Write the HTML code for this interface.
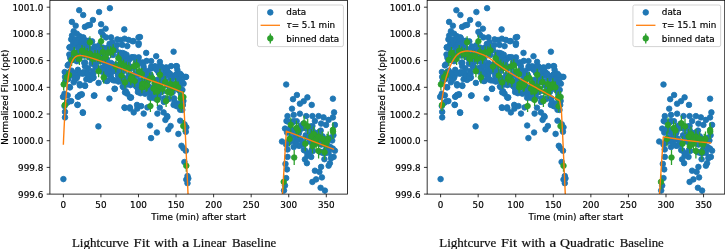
<!DOCTYPE html>
<html><head><meta charset="utf-8"><title>Lightcurve fits</title>
<style>html,body{margin:0;padding:0;background:#fff;overflow:hidden}svg{display:block}text{stroke:#000;stroke-width:.18px}.cap text{stroke:#111;stroke-width:.22px}</style></head>
<body>
<svg width="725" height="249" viewBox="0 0 725 249" font-family="'DejaVu Sans', 'Liberation Sans', sans-serif" font-size="8.8px">
<rect width="725" height="249" fill="#fff"/>
<clipPath id="c0"><rect x="49.9" y="0.3" width="297.6" height="193.79999999999998"/></clipPath>
<g clip-path="url(#c0)">
<g fill="#1f77b4" stroke="#1f77b4" stroke-width="0.86">
<circle cx="110.6" cy="76.0" r="2.78"/>
<circle cx="107.4" cy="80.9" r="2.78"/>
<circle cx="114.6" cy="88.9" r="2.78"/>
<circle cx="122.7" cy="86.5" r="2.78"/>
<circle cx="125.9" cy="91.3" r="2.78"/>
<circle cx="130.7" cy="97.7" r="2.78"/>
<circle cx="121.0" cy="80.9" r="2.78"/>
<circle cx="129.9" cy="79.3" r="2.78"/>
<circle cx="133.1" cy="84.1" r="2.78"/>
<circle cx="137.9" cy="92.1" r="2.78"/>
<circle cx="139.5" cy="87.3" r="2.78"/>
<circle cx="145.1" cy="93.7" r="2.78"/>
<circle cx="147.5" cy="87.3" r="2.78"/>
<circle cx="151.5" cy="92.1" r="2.78"/>
<circle cx="153.2" cy="87.3" r="2.78"/>
<circle cx="156.4" cy="94.5" r="2.78"/>
<circle cx="161.2" cy="92.1" r="2.78"/>
<circle cx="149.9" cy="97.7" r="2.78"/>
<circle cx="158.0" cy="98.5" r="2.78"/>
<circle cx="150.0" cy="125.5" r="2.78"/>
<circle cx="151.1" cy="138.1" r="2.78"/>
<circle cx="180.2" cy="109.8" r="2.78"/>
<circle cx="180.2" cy="120.7" r="2.78"/>
<circle cx="184.5" cy="124.3" r="2.78"/>
<circle cx="186.3" cy="127.3" r="2.78"/>
<circle cx="178.4" cy="133.9" r="2.78"/>
<circle cx="170.6" cy="126.0" r="2.78"/>
<circle cx="79.7" cy="36.2" r="2.78"/>
<circle cx="83.4" cy="38.0" r="2.78"/>
<circle cx="87.2" cy="42.0" r="2.78"/>
<circle cx="77.7" cy="43.7" r="2.78"/>
<circle cx="82.2" cy="45.0" r="2.78"/>
<circle cx="73.4" cy="46.2" r="2.78"/>
<circle cx="69.7" cy="47.4" r="2.78"/>
<circle cx="120.8" cy="40.0" r="2.78"/>
<circle cx="124.6" cy="38.7" r="2.78"/>
<circle cx="109.6" cy="43.7" r="2.78"/>
<circle cx="117.1" cy="45.0" r="2.78"/>
<circle cx="72.0" cy="35.5" r="2.78"/>
<circle cx="85.0" cy="40.5" r="2.78"/>
<circle cx="67.7" cy="65.4" r="2.78"/>
<circle cx="64.7" cy="72.0" r="2.78"/>
<circle cx="65.3" cy="81.1" r="2.78"/>
<circle cx="69.5" cy="87.1" r="2.78"/>
<circle cx="73.7" cy="82.3" r="2.78"/>
<circle cx="76.7" cy="78.1" r="2.78"/>
<circle cx="79.7" cy="84.1" r="2.78"/>
<circle cx="85.1" cy="85.9" r="2.78"/>
<circle cx="83.9" cy="72.0" r="2.78"/>
<circle cx="88.1" cy="68.4" r="2.78"/>
<circle cx="90.6" cy="75.7" r="2.78"/>
<circle cx="93.0" cy="78.1" r="2.78"/>
<circle cx="86.3" cy="79.3" r="2.78"/>
<circle cx="64.0" cy="96.0" r="2.78"/>
<circle cx="67.7" cy="95.4" r="2.78"/>
<circle cx="69.2" cy="101.4" r="2.78"/>
<circle cx="77.7" cy="104.8" r="2.78"/>
<circle cx="78.3" cy="96.6" r="2.78"/>
<circle cx="81.6" cy="94.8" r="2.78"/>
<circle cx="93.9" cy="95.8" r="2.78"/>
<circle cx="82.8" cy="112.3" r="2.78"/>
<circle cx="79.2" cy="10.2" r="2.78"/>
<circle cx="83.2" cy="15.0" r="2.78"/>
<circle cx="99.1" cy="12.0" r="2.78"/>
<circle cx="109.9" cy="8.2" r="2.78"/>
<circle cx="92.9" cy="20.0" r="2.78"/>
<circle cx="71.9" cy="21.9" r="2.78"/>
<circle cx="75.7" cy="25.7" r="2.78"/>
<circle cx="84.9" cy="26.9" r="2.78"/>
<circle cx="87.9" cy="25.4" r="2.78"/>
<circle cx="89.9" cy="24.9" r="2.78"/>
<circle cx="101.1" cy="24.2" r="2.78"/>
<circle cx="105.6" cy="28.7" r="2.78"/>
<circle cx="101.1" cy="31.9" r="2.78"/>
<circle cx="124.3" cy="29.4" r="2.78"/>
<circle cx="73.7" cy="31.2" r="2.78"/>
<circle cx="76.9" cy="33.7" r="2.78"/>
<circle cx="79.9" cy="36.9" r="2.78"/>
<circle cx="83.2" cy="37.4" r="2.78"/>
<circle cx="71.2" cy="39.4" r="2.78"/>
<circle cx="75.4" cy="39.9" r="2.78"/>
<circle cx="69.5" cy="47.4" r="2.78"/>
<circle cx="102.9" cy="34.9" r="2.78"/>
<circle cx="106.1" cy="37.4" r="2.78"/>
<circle cx="111.1" cy="37.4" r="2.78"/>
<circle cx="117.3" cy="39.4" r="2.78"/>
<circle cx="128.6" cy="39.9" r="2.78"/>
<circle cx="133.5" cy="41.1" r="2.78"/>
<circle cx="138.5" cy="37.4" r="2.78"/>
<circle cx="138.5" cy="44.9" r="2.78"/>
<circle cx="112.3" cy="42.4" r="2.78"/>
<circle cx="122.3" cy="44.9" r="2.78"/>
<circle cx="127.3" cy="46.1" r="2.78"/>
<circle cx="140.0" cy="37.0" r="2.78"/>
<circle cx="132.5" cy="41.2" r="2.78"/>
<circle cx="138.7" cy="43.2" r="2.78"/>
<circle cx="146.2" cy="52.9" r="2.78"/>
<circle cx="173.6" cy="51.7" r="2.78"/>
<circle cx="156.2" cy="56.2" r="2.78"/>
<circle cx="132.5" cy="57.4" r="2.78"/>
<circle cx="138.7" cy="57.4" r="2.78"/>
<circle cx="151.2" cy="61.1" r="2.78"/>
<circle cx="159.9" cy="61.9" r="2.78"/>
<circle cx="142.5" cy="62.4" r="2.78"/>
<circle cx="143.7" cy="67.4" r="2.78"/>
<circle cx="151.2" cy="68.6" r="2.78"/>
<circle cx="159.9" cy="66.1" r="2.78"/>
<circle cx="166.2" cy="67.4" r="2.78"/>
<circle cx="171.1" cy="66.1" r="2.78"/>
<circle cx="176.1" cy="66.1" r="2.78"/>
<circle cx="177.4" cy="69.9" r="2.78"/>
<circle cx="158.7" cy="72.9" r="2.78"/>
<circle cx="164.9" cy="72.4" r="2.78"/>
<circle cx="169.9" cy="73.6" r="2.78"/>
<circle cx="176.1" cy="74.9" r="2.78"/>
<circle cx="181.1" cy="76.1" r="2.78"/>
<circle cx="186.1" cy="76.9" r="2.78"/>
<circle cx="147.5" cy="71.1" r="2.78"/>
<circle cx="65.0" cy="76.9" r="2.78"/>
<circle cx="68.7" cy="76.2" r="2.78"/>
<circle cx="74.9" cy="79.9" r="2.78"/>
<circle cx="70.0" cy="87.4" r="2.78"/>
<circle cx="64.5" cy="93.7" r="2.78"/>
<circle cx="63.0" cy="96.9" r="2.78"/>
<circle cx="64.5" cy="106.1" r="2.78"/>
<circle cx="67.0" cy="102.9" r="2.78"/>
<circle cx="71.2" cy="101.1" r="2.78"/>
<circle cx="77.4" cy="104.9" r="2.78"/>
<circle cx="79.9" cy="94.9" r="2.78"/>
<circle cx="82.9" cy="112.9" r="2.78"/>
<circle cx="94.4" cy="95.4" r="2.78"/>
<circle cx="109.4" cy="98.6" r="2.78"/>
<circle cx="114.8" cy="88.7" r="2.78"/>
<circle cx="124.8" cy="107.9" r="2.78"/>
<circle cx="129.8" cy="107.4" r="2.78"/>
<circle cx="137.3" cy="108.6" r="2.78"/>
<circle cx="131.0" cy="97.4" r="2.78"/>
<circle cx="127.3" cy="93.7" r="2.78"/>
<circle cx="123.6" cy="87.4" r="2.78"/>
<circle cx="79.9" cy="85.4" r="2.78"/>
<circle cx="84.9" cy="85.4" r="2.78"/>
<circle cx="74.9" cy="78.7" r="2.78"/>
<circle cx="77.4" cy="76.2" r="2.78"/>
<circle cx="82.4" cy="73.7" r="2.78"/>
<circle cx="87.4" cy="73.0" r="2.78"/>
<circle cx="89.9" cy="79.9" r="2.78"/>
<circle cx="93.6" cy="77.4" r="2.78"/>
<circle cx="98.6" cy="82.9" r="2.78"/>
<circle cx="104.9" cy="79.9" r="2.78"/>
<circle cx="111.1" cy="77.9" r="2.78"/>
<circle cx="109.9" cy="75.0" r="2.78"/>
<circle cx="118.6" cy="76.2" r="2.78"/>
<circle cx="124.8" cy="79.9" r="2.78"/>
<circle cx="132.3" cy="82.4" r="2.78"/>
<circle cx="136.0" cy="86.2" r="2.78"/>
<circle cx="65.0" cy="117.4" r="2.78"/>
<circle cx="65.0" cy="111.9" r="2.78"/>
<circle cx="98.4" cy="126.4" r="2.78"/>
<circle cx="63.4" cy="179.1" r="2.78"/>
<circle cx="77.9" cy="96.7" r="2.78"/>
<circle cx="81.7" cy="94.2" r="2.78"/>
<circle cx="124.5" cy="107.4" r="2.78"/>
<circle cx="130.0" cy="108.6" r="2.78"/>
<circle cx="133.7" cy="112.4" r="2.78"/>
<circle cx="137.0" cy="104.9" r="2.78"/>
<circle cx="141.2" cy="106.1" r="2.78"/>
<circle cx="143.7" cy="113.6" r="2.78"/>
<circle cx="147.4" cy="107.4" r="2.78"/>
<circle cx="130.0" cy="97.4" r="2.78"/>
<circle cx="125.0" cy="92.4" r="2.78"/>
<circle cx="157.4" cy="113.6" r="2.78"/>
<circle cx="163.6" cy="112.4" r="2.78"/>
<circle cx="167.4" cy="116.9" r="2.78"/>
<circle cx="165.4" cy="119.9" r="2.78"/>
<circle cx="173.6" cy="104.9" r="2.78"/>
<circle cx="178.6" cy="103.6" r="2.78"/>
<circle cx="182.3" cy="109.9" r="2.78"/>
<circle cx="176.9" cy="66.2" r="2.78"/>
<circle cx="185.3" cy="77.0" r="2.78"/>
<circle cx="183.6" cy="83.7" r="2.78"/>
<circle cx="179.9" cy="87.9" r="2.78"/>
<circle cx="159.8" cy="107.7" r="2.78"/>
<circle cx="167.0" cy="116.0" r="2.78"/>
<circle cx="168.3" cy="129.4" r="2.78"/>
<circle cx="156.9" cy="132.5" r="2.78"/>
<circle cx="185.8" cy="131.8" r="2.78"/>
<circle cx="181.5" cy="145.8" r="2.78"/>
<circle cx="183.4" cy="148.3" r="2.78"/>
<circle cx="185.8" cy="150.7" r="2.78"/>
<circle cx="184.4" cy="162.0" r="2.78"/>
<circle cx="187.5" cy="176.0" r="2.78"/>
<circle cx="188.3" cy="178.4" r="2.78"/>
<circle cx="186.3" cy="179.6" r="2.78"/>
<circle cx="187.5" cy="183.2" r="2.78"/>
<circle cx="286.2" cy="84.5" r="2.78"/>
<circle cx="296.9" cy="95.0" r="2.78"/>
<circle cx="293.0" cy="99.2" r="2.78"/>
<circle cx="307.4" cy="97.4" r="2.78"/>
<circle cx="303.7" cy="101.2" r="2.78"/>
<circle cx="299.9" cy="103.7" r="2.78"/>
<circle cx="311.7" cy="104.9" r="2.78"/>
<circle cx="332.9" cy="98.7" r="2.78"/>
<circle cx="292.0" cy="108.7" r="2.78"/>
<circle cx="334.1" cy="112.4" r="2.78"/>
<circle cx="287.5" cy="116.1" r="2.78"/>
<circle cx="293.7" cy="114.9" r="2.78"/>
<circle cx="299.9" cy="113.7" r="2.78"/>
<circle cx="306.2" cy="116.1" r="2.78"/>
<circle cx="312.4" cy="116.1" r="2.78"/>
<circle cx="318.6" cy="116.1" r="2.78"/>
<circle cx="323.6" cy="117.4" r="2.78"/>
<circle cx="328.6" cy="119.9" r="2.78"/>
<circle cx="332.9" cy="117.4" r="2.78"/>
<circle cx="287.5" cy="121.1" r="2.78"/>
<circle cx="285.0" cy="128.6" r="2.78"/>
<circle cx="314.9" cy="121.1" r="2.78"/>
<circle cx="321.1" cy="123.6" r="2.78"/>
<circle cx="326.1" cy="124.9" r="2.78"/>
<circle cx="312.4" cy="126.1" r="2.78"/>
<circle cx="334.9" cy="124.9" r="2.78"/>
<circle cx="282.0" cy="141.5" r="2.78"/>
<circle cx="286.2" cy="144.5" r="2.78"/>
<circle cx="287.5" cy="149.5" r="2.78"/>
<circle cx="287.5" cy="156.9" r="2.78"/>
<circle cx="285.5" cy="163.9" r="2.78"/>
<circle cx="287.0" cy="169.4" r="2.78"/>
<circle cx="286.2" cy="178.1" r="2.78"/>
<circle cx="285.0" cy="185.6" r="2.78"/>
<circle cx="284.0" cy="190.5" r="2.78"/>
<circle cx="293.7" cy="147.0" r="2.78"/>
<circle cx="298.7" cy="145.7" r="2.78"/>
<circle cx="307.4" cy="155.7" r="2.78"/>
<circle cx="304.9" cy="159.4" r="2.78"/>
<circle cx="306.9" cy="163.2" r="2.78"/>
<circle cx="311.2" cy="156.9" r="2.78"/>
<circle cx="321.1" cy="166.9" r="2.78"/>
<circle cx="314.9" cy="170.7" r="2.78"/>
<circle cx="319.4" cy="171.9" r="2.78"/>
<circle cx="321.9" cy="177.4" r="2.78"/>
<circle cx="316.1" cy="179.4" r="2.78"/>
<circle cx="312.4" cy="181.9" r="2.78"/>
<circle cx="320.6" cy="187.8" r="2.78"/>
<circle cx="324.9" cy="190.6" r="2.78"/>
<circle cx="331.1" cy="158.2" r="2.78"/>
<circle cx="333.6" cy="156.9" r="2.78"/>
<circle cx="329.9" cy="163.2" r="2.78"/>
<circle cx="328.6" cy="165.7" r="2.78"/>
<circle cx="334.9" cy="150.7" r="2.78"/>
<circle cx="324.9" cy="153.2" r="2.78"/>
<circle cx="321.1" cy="152.0" r="2.78"/>
<circle cx="67.9" cy="78.6" r="2.78"/>
<circle cx="68.3" cy="79.1" r="2.78"/>
<circle cx="68.8" cy="64.4" r="2.78"/>
<circle cx="69.3" cy="54.5" r="2.78"/>
<circle cx="69.7" cy="72.1" r="2.78"/>
<circle cx="70.2" cy="57.8" r="2.78"/>
<circle cx="70.7" cy="54.9" r="2.78"/>
<circle cx="71.1" cy="59.7" r="2.78"/>
<circle cx="71.6" cy="70.7" r="2.78"/>
<circle cx="72.1" cy="60.2" r="2.78"/>
<circle cx="72.5" cy="49.1" r="2.78"/>
<circle cx="72.8" cy="75.4" r="2.78"/>
<circle cx="73.0" cy="43.9" r="2.78"/>
<circle cx="73.3" cy="73.5" r="2.78"/>
<circle cx="73.4" cy="53.7" r="2.78"/>
<circle cx="73.9" cy="57.2" r="2.78"/>
<circle cx="74.4" cy="53.3" r="2.78"/>
<circle cx="74.8" cy="40.7" r="2.78"/>
<circle cx="75.1" cy="73.0" r="2.78"/>
<circle cx="75.3" cy="45.0" r="2.78"/>
<circle cx="75.8" cy="39.8" r="2.78"/>
<circle cx="76.2" cy="43.3" r="2.78"/>
<circle cx="76.7" cy="61.2" r="2.78"/>
<circle cx="77.2" cy="60.2" r="2.78"/>
<circle cx="77.6" cy="57.4" r="2.78"/>
<circle cx="77.9" cy="69.8" r="2.78"/>
<circle cx="78.1" cy="51.4" r="2.78"/>
<circle cx="78.6" cy="47.7" r="2.78"/>
<circle cx="79.0" cy="40.1" r="2.78"/>
<circle cx="79.5" cy="46.6" r="2.78"/>
<circle cx="79.8" cy="72.5" r="2.78"/>
<circle cx="80.0" cy="48.0" r="2.78"/>
<circle cx="80.4" cy="53.3" r="2.78"/>
<circle cx="80.9" cy="54.5" r="2.78"/>
<circle cx="81.4" cy="42.4" r="2.78"/>
<circle cx="81.8" cy="44.6" r="2.78"/>
<circle cx="82.3" cy="41.1" r="2.78"/>
<circle cx="82.8" cy="44.2" r="2.78"/>
<circle cx="83.2" cy="46.4" r="2.78"/>
<circle cx="83.7" cy="55.5" r="2.78"/>
<circle cx="84.0" cy="73.3" r="2.78"/>
<circle cx="84.2" cy="62.7" r="2.78"/>
<circle cx="84.6" cy="53.4" r="2.78"/>
<circle cx="84.9" cy="66.3" r="2.78"/>
<circle cx="85.1" cy="62.5" r="2.78"/>
<circle cx="85.6" cy="43.9" r="2.78"/>
<circle cx="86.0" cy="55.5" r="2.78"/>
<circle cx="86.5" cy="49.0" r="2.78"/>
<circle cx="87.0" cy="45.7" r="2.78"/>
<circle cx="87.3" cy="74.4" r="2.78"/>
<circle cx="87.4" cy="51.6" r="2.78"/>
<circle cx="87.9" cy="48.1" r="2.78"/>
<circle cx="88.4" cy="40.8" r="2.78"/>
<circle cx="88.8" cy="41.0" r="2.78"/>
<circle cx="89.1" cy="75.9" r="2.78"/>
<circle cx="89.3" cy="56.8" r="2.78"/>
<circle cx="89.8" cy="53.6" r="2.78"/>
<circle cx="90.2" cy="49.3" r="2.78"/>
<circle cx="90.7" cy="57.9" r="2.78"/>
<circle cx="91.1" cy="53.9" r="2.78"/>
<circle cx="91.6" cy="63.8" r="2.78"/>
<circle cx="91.9" cy="76.4" r="2.78"/>
<circle cx="92.1" cy="41.4" r="2.78"/>
<circle cx="92.5" cy="61.7" r="2.78"/>
<circle cx="92.8" cy="71.0" r="2.78"/>
<circle cx="93.0" cy="61.9" r="2.78"/>
<circle cx="93.3" cy="73.5" r="2.78"/>
<circle cx="93.5" cy="61.5" r="2.78"/>
<circle cx="93.9" cy="60.0" r="2.78"/>
<circle cx="94.4" cy="47.0" r="2.78"/>
<circle cx="94.9" cy="46.6" r="2.78"/>
<circle cx="95.3" cy="66.0" r="2.78"/>
<circle cx="95.8" cy="51.0" r="2.78"/>
<circle cx="96.3" cy="66.4" r="2.78"/>
<circle cx="96.7" cy="67.3" r="2.78"/>
<circle cx="97.2" cy="55.9" r="2.78"/>
<circle cx="97.7" cy="61.6" r="2.78"/>
<circle cx="98.1" cy="53.9" r="2.78"/>
<circle cx="98.6" cy="53.7" r="2.78"/>
<circle cx="99.1" cy="45.3" r="2.78"/>
<circle cx="99.5" cy="56.7" r="2.78"/>
<circle cx="100.0" cy="50.1" r="2.78"/>
<circle cx="100.5" cy="60.9" r="2.78"/>
<circle cx="100.9" cy="59.9" r="2.78"/>
<circle cx="101.4" cy="52.6" r="2.78"/>
<circle cx="101.9" cy="49.6" r="2.78"/>
<circle cx="102.2" cy="71.8" r="2.78"/>
<circle cx="102.3" cy="67.5" r="2.78"/>
<circle cx="102.8" cy="47.6" r="2.78"/>
<circle cx="103.3" cy="56.9" r="2.78"/>
<circle cx="103.7" cy="61.6" r="2.78"/>
<circle cx="104.2" cy="69.3" r="2.78"/>
<circle cx="104.7" cy="61.2" r="2.78"/>
<circle cx="105.1" cy="50.2" r="2.78"/>
<circle cx="105.4" cy="75.1" r="2.78"/>
<circle cx="105.6" cy="64.9" r="2.78"/>
<circle cx="106.1" cy="64.2" r="2.78"/>
<circle cx="106.4" cy="81.0" r="2.78"/>
<circle cx="106.5" cy="66.2" r="2.78"/>
<circle cx="107.0" cy="59.3" r="2.78"/>
<circle cx="107.5" cy="47.6" r="2.78"/>
<circle cx="107.8" cy="71.7" r="2.78"/>
<circle cx="107.9" cy="52.9" r="2.78"/>
<circle cx="108.4" cy="51.4" r="2.78"/>
<circle cx="108.8" cy="47.9" r="2.78"/>
<circle cx="109.3" cy="51.2" r="2.78"/>
<circle cx="109.8" cy="47.8" r="2.78"/>
<circle cx="110.2" cy="70.9" r="2.78"/>
<circle cx="110.7" cy="67.9" r="2.78"/>
<circle cx="111.2" cy="63.0" r="2.78"/>
<circle cx="111.5" cy="79.1" r="2.78"/>
<circle cx="111.6" cy="48.9" r="2.78"/>
<circle cx="112.1" cy="72.0" r="2.78"/>
<circle cx="112.6" cy="47.7" r="2.78"/>
<circle cx="113.0" cy="55.0" r="2.78"/>
<circle cx="113.3" cy="80.3" r="2.78"/>
<circle cx="113.5" cy="68.2" r="2.78"/>
<circle cx="114.0" cy="70.1" r="2.78"/>
<circle cx="114.4" cy="50.5" r="2.78"/>
<circle cx="114.9" cy="71.0" r="2.78"/>
<circle cx="115.2" cy="80.5" r="2.78"/>
<circle cx="115.4" cy="64.6" r="2.78"/>
<circle cx="115.8" cy="50.1" r="2.78"/>
<circle cx="116.3" cy="64.8" r="2.78"/>
<circle cx="116.8" cy="69.6" r="2.78"/>
<circle cx="117.2" cy="67.5" r="2.78"/>
<circle cx="117.7" cy="72.3" r="2.78"/>
<circle cx="118.0" cy="75.5" r="2.78"/>
<circle cx="118.2" cy="66.0" r="2.78"/>
<circle cx="118.5" cy="81.6" r="2.78"/>
<circle cx="118.6" cy="74.1" r="2.78"/>
<circle cx="119.1" cy="55.6" r="2.78"/>
<circle cx="119.6" cy="66.7" r="2.78"/>
<circle cx="119.9" cy="80.1" r="2.78"/>
<circle cx="120.0" cy="52.7" r="2.78"/>
<circle cx="120.5" cy="71.7" r="2.78"/>
<circle cx="121.0" cy="59.5" r="2.78"/>
<circle cx="121.4" cy="55.5" r="2.78"/>
<circle cx="121.9" cy="58.8" r="2.78"/>
<circle cx="122.4" cy="53.0" r="2.78"/>
<circle cx="122.8" cy="77.3" r="2.78"/>
<circle cx="123.3" cy="71.3" r="2.78"/>
<circle cx="123.8" cy="61.4" r="2.78"/>
<circle cx="124.2" cy="53.6" r="2.78"/>
<circle cx="124.7" cy="78.5" r="2.78"/>
<circle cx="125.2" cy="55.9" r="2.78"/>
<circle cx="125.6" cy="56.1" r="2.78"/>
<circle cx="126.1" cy="56.2" r="2.78"/>
<circle cx="126.5" cy="54.7" r="2.78"/>
<circle cx="127.0" cy="84.5" r="2.78"/>
<circle cx="127.5" cy="61.8" r="2.78"/>
<circle cx="127.9" cy="63.3" r="2.78"/>
<circle cx="128.4" cy="82.5" r="2.78"/>
<circle cx="128.9" cy="75.0" r="2.78"/>
<circle cx="129.3" cy="59.6" r="2.78"/>
<circle cx="129.8" cy="68.7" r="2.78"/>
<circle cx="130.3" cy="85.1" r="2.78"/>
<circle cx="130.7" cy="66.9" r="2.78"/>
<circle cx="131.2" cy="79.2" r="2.78"/>
<circle cx="131.7" cy="57.3" r="2.78"/>
<circle cx="132.1" cy="80.2" r="2.78"/>
<circle cx="132.6" cy="82.1" r="2.78"/>
<circle cx="133.1" cy="84.1" r="2.78"/>
<circle cx="133.5" cy="78.8" r="2.78"/>
<circle cx="134.0" cy="68.1" r="2.78"/>
<circle cx="134.5" cy="57.2" r="2.78"/>
<circle cx="134.9" cy="73.8" r="2.78"/>
<circle cx="135.4" cy="82.6" r="2.78"/>
<circle cx="135.9" cy="62.4" r="2.78"/>
<circle cx="136.3" cy="65.3" r="2.78"/>
<circle cx="136.8" cy="75.2" r="2.78"/>
<circle cx="137.3" cy="83.0" r="2.78"/>
<circle cx="137.7" cy="88.5" r="2.78"/>
<circle cx="138.2" cy="61.0" r="2.78"/>
<circle cx="138.7" cy="63.2" r="2.78"/>
<circle cx="139.1" cy="85.6" r="2.78"/>
<circle cx="139.6" cy="80.2" r="2.78"/>
<circle cx="140.1" cy="83.1" r="2.78"/>
<circle cx="140.5" cy="93.2" r="2.78"/>
<circle cx="141.0" cy="91.4" r="2.78"/>
<circle cx="141.5" cy="88.1" r="2.78"/>
<circle cx="141.9" cy="85.9" r="2.78"/>
<circle cx="142.4" cy="72.3" r="2.78"/>
<circle cx="142.9" cy="81.4" r="2.78"/>
<circle cx="143.3" cy="65.1" r="2.78"/>
<circle cx="143.8" cy="86.0" r="2.78"/>
<circle cx="144.2" cy="86.1" r="2.78"/>
<circle cx="144.7" cy="85.0" r="2.78"/>
<circle cx="145.2" cy="75.2" r="2.78"/>
<circle cx="145.6" cy="73.0" r="2.78"/>
<circle cx="146.1" cy="74.7" r="2.78"/>
<circle cx="146.6" cy="60.9" r="2.78"/>
<circle cx="147.0" cy="90.3" r="2.78"/>
<circle cx="147.5" cy="79.6" r="2.78"/>
<circle cx="148.0" cy="74.2" r="2.78"/>
<circle cx="148.4" cy="80.2" r="2.78"/>
<circle cx="148.9" cy="86.6" r="2.78"/>
<circle cx="149.4" cy="74.5" r="2.78"/>
<circle cx="149.8" cy="90.9" r="2.78"/>
<circle cx="150.3" cy="94.2" r="2.78"/>
<circle cx="150.8" cy="75.3" r="2.78"/>
<circle cx="151.2" cy="66.5" r="2.78"/>
<circle cx="151.7" cy="89.0" r="2.78"/>
<circle cx="152.2" cy="97.6" r="2.78"/>
<circle cx="152.6" cy="67.3" r="2.78"/>
<circle cx="153.1" cy="87.8" r="2.78"/>
<circle cx="153.6" cy="92.1" r="2.78"/>
<circle cx="154.0" cy="95.7" r="2.78"/>
<circle cx="154.5" cy="67.1" r="2.78"/>
<circle cx="155.0" cy="66.2" r="2.78"/>
<circle cx="155.4" cy="98.6" r="2.78"/>
<circle cx="155.9" cy="67.4" r="2.78"/>
<circle cx="156.4" cy="69.7" r="2.78"/>
<circle cx="156.8" cy="84.2" r="2.78"/>
<circle cx="157.3" cy="79.8" r="2.78"/>
<circle cx="157.8" cy="90.9" r="2.78"/>
<circle cx="158.2" cy="70.9" r="2.78"/>
<circle cx="158.7" cy="97.1" r="2.78"/>
<circle cx="159.2" cy="72.2" r="2.78"/>
<circle cx="159.6" cy="92.2" r="2.78"/>
<circle cx="160.1" cy="67.1" r="2.78"/>
<circle cx="160.6" cy="81.9" r="2.78"/>
<circle cx="161.0" cy="66.2" r="2.78"/>
<circle cx="161.5" cy="76.5" r="2.78"/>
<circle cx="162.0" cy="76.6" r="2.78"/>
<circle cx="162.4" cy="91.4" r="2.78"/>
<circle cx="162.9" cy="82.1" r="2.78"/>
<circle cx="163.3" cy="67.9" r="2.78"/>
<circle cx="163.8" cy="101.9" r="2.78"/>
<circle cx="164.3" cy="98.2" r="2.78"/>
<circle cx="164.7" cy="99.4" r="2.78"/>
<circle cx="165.2" cy="75.4" r="2.78"/>
<circle cx="165.7" cy="80.9" r="2.78"/>
<circle cx="166.1" cy="75.1" r="2.78"/>
<circle cx="166.6" cy="71.6" r="2.78"/>
<circle cx="167.1" cy="68.5" r="2.78"/>
<circle cx="167.5" cy="85.6" r="2.78"/>
<circle cx="168.0" cy="72.1" r="2.78"/>
<circle cx="168.5" cy="74.1" r="2.78"/>
<circle cx="168.9" cy="98.9" r="2.78"/>
<circle cx="169.4" cy="85.6" r="2.78"/>
<circle cx="169.9" cy="74.9" r="2.78"/>
<circle cx="170.3" cy="92.6" r="2.78"/>
<circle cx="170.8" cy="78.3" r="2.78"/>
<circle cx="171.3" cy="87.8" r="2.78"/>
<circle cx="171.7" cy="79.2" r="2.78"/>
<circle cx="172.2" cy="87.8" r="2.78"/>
<circle cx="172.7" cy="92.0" r="2.78"/>
<circle cx="173.1" cy="88.9" r="2.78"/>
<circle cx="173.6" cy="84.0" r="2.78"/>
<circle cx="174.1" cy="98.4" r="2.78"/>
<circle cx="174.5" cy="101.6" r="2.78"/>
<circle cx="175.0" cy="76.7" r="2.78"/>
<circle cx="175.5" cy="75.4" r="2.78"/>
<circle cx="175.9" cy="74.7" r="2.78"/>
<circle cx="176.4" cy="106.1" r="2.78"/>
<circle cx="176.9" cy="104.9" r="2.78"/>
<circle cx="177.3" cy="79.5" r="2.78"/>
<circle cx="177.8" cy="106.3" r="2.78"/>
<circle cx="178.3" cy="79.0" r="2.78"/>
<circle cx="178.7" cy="90.0" r="2.78"/>
<circle cx="179.2" cy="89.8" r="2.78"/>
<circle cx="179.7" cy="105.0" r="2.78"/>
<circle cx="180.1" cy="73.7" r="2.78"/>
<circle cx="180.6" cy="83.8" r="2.78"/>
<circle cx="181.0" cy="94.2" r="2.78"/>
<circle cx="181.5" cy="75.2" r="2.78"/>
<circle cx="182.0" cy="81.5" r="2.78"/>
<circle cx="182.4" cy="89.9" r="2.78"/>
<circle cx="182.9" cy="105.0" r="2.78"/>
<circle cx="183.4" cy="100.9" r="2.78"/>
<circle cx="286.5" cy="121.0" r="2.78"/>
<circle cx="287.1" cy="132.6" r="2.78"/>
<circle cx="287.7" cy="121.4" r="2.78"/>
<circle cx="288.3" cy="142.0" r="2.78"/>
<circle cx="288.9" cy="141.8" r="2.78"/>
<circle cx="289.5" cy="142.2" r="2.78"/>
<circle cx="290.1" cy="128.4" r="2.78"/>
<circle cx="290.7" cy="137.6" r="2.78"/>
<circle cx="291.3" cy="132.0" r="2.78"/>
<circle cx="291.9" cy="129.9" r="2.78"/>
<circle cx="292.5" cy="130.6" r="2.78"/>
<circle cx="293.1" cy="122.1" r="2.78"/>
<circle cx="293.7" cy="121.1" r="2.78"/>
<circle cx="294.3" cy="141.5" r="2.78"/>
<circle cx="294.9" cy="132.8" r="2.78"/>
<circle cx="295.5" cy="136.7" r="2.78"/>
<circle cx="296.1" cy="144.0" r="2.78"/>
<circle cx="296.7" cy="121.2" r="2.78"/>
<circle cx="297.3" cy="128.4" r="2.78"/>
<circle cx="297.9" cy="137.3" r="2.78"/>
<circle cx="298.5" cy="139.4" r="2.78"/>
<circle cx="299.1" cy="132.7" r="2.78"/>
<circle cx="299.7" cy="145.6" r="2.78"/>
<circle cx="300.3" cy="138.5" r="2.78"/>
<circle cx="300.9" cy="125.9" r="2.78"/>
<circle cx="301.5" cy="128.7" r="2.78"/>
<circle cx="302.1" cy="144.5" r="2.78"/>
<circle cx="302.7" cy="141.7" r="2.78"/>
<circle cx="303.3" cy="123.7" r="2.78"/>
<circle cx="303.9" cy="150.1" r="2.78"/>
<circle cx="304.5" cy="143.6" r="2.78"/>
<circle cx="305.1" cy="150.5" r="2.78"/>
<circle cx="305.7" cy="135.2" r="2.78"/>
<circle cx="306.3" cy="136.2" r="2.78"/>
<circle cx="306.9" cy="129.0" r="2.78"/>
<circle cx="307.5" cy="153.3" r="2.78"/>
<circle cx="308.1" cy="138.0" r="2.78"/>
<circle cx="308.7" cy="153.8" r="2.78"/>
<circle cx="309.3" cy="134.2" r="2.78"/>
<circle cx="309.9" cy="141.7" r="2.78"/>
<circle cx="310.5" cy="126.5" r="2.78"/>
<circle cx="311.1" cy="137.3" r="2.78"/>
<circle cx="311.7" cy="149.8" r="2.78"/>
<circle cx="312.3" cy="129.9" r="2.78"/>
<circle cx="312.9" cy="151.0" r="2.78"/>
<circle cx="313.5" cy="144.7" r="2.78"/>
<circle cx="314.1" cy="132.5" r="2.78"/>
<circle cx="314.7" cy="137.6" r="2.78"/>
<circle cx="315.3" cy="138.2" r="2.78"/>
<circle cx="315.9" cy="142.1" r="2.78"/>
<circle cx="316.5" cy="137.9" r="2.78"/>
<circle cx="317.1" cy="135.5" r="2.78"/>
<circle cx="317.7" cy="140.5" r="2.78"/>
<circle cx="318.3" cy="134.2" r="2.78"/>
<circle cx="318.9" cy="132.1" r="2.78"/>
<circle cx="319.5" cy="143.5" r="2.78"/>
<circle cx="320.1" cy="152.1" r="2.78"/>
<circle cx="320.7" cy="130.6" r="2.78"/>
<circle cx="321.3" cy="144.6" r="2.78"/>
<circle cx="321.9" cy="139.0" r="2.78"/>
<circle cx="322.5" cy="136.3" r="2.78"/>
<circle cx="323.1" cy="153.0" r="2.78"/>
<circle cx="323.8" cy="140.8" r="2.78"/>
<circle cx="324.4" cy="159.2" r="2.78"/>
<circle cx="325.0" cy="138.9" r="2.78"/>
<circle cx="325.6" cy="149.7" r="2.78"/>
<circle cx="326.2" cy="144.4" r="2.78"/>
<circle cx="326.8" cy="139.9" r="2.78"/>
<circle cx="327.4" cy="152.2" r="2.78"/>
<circle cx="328.0" cy="145.7" r="2.78"/>
<circle cx="328.6" cy="152.8" r="2.78"/>
<circle cx="329.2" cy="147.1" r="2.78"/>
<circle cx="329.8" cy="138.0" r="2.78"/>
<circle cx="330.4" cy="147.1" r="2.78"/>
<circle cx="331.0" cy="148.7" r="2.78"/>
<circle cx="331.6" cy="157.1" r="2.78"/>
<circle cx="332.2" cy="140.5" r="2.78"/>
<circle cx="332.8" cy="148.6" r="2.78"/>
<circle cx="333.4" cy="135.2" r="2.78"/>
</g>
<path stroke="#2ca02c" stroke-width="1.29" d="M130.7 73.3V85.3M134.7 74.9V86.9M141.9 81.3V93.3M154.8 82.9V94.9M159.6 80.5V92.5M181.4 100.2V112.2M183.3 120.1V132.1M298.1 123.0V138.0M313.7 126.6V141.6M318.6 129.0V144.0M316.1 136.2V151.2M324.6 136.2V151.2M328.2 131.4V146.4M312.5 138.6V153.6M103.7 71.4V83.4M121.5 69.5V81.5M125.0 76.4V88.4M131.5 71.2V83.2M153.6 82.6V94.6M142.2 78.1V90.1M146.2 79.7V91.7M171.0 86.9V98.9M89.9 36.3V48.3M101.1 35.3V47.3M67.0 71.0V83.0M63.7 78.4V90.4M64.8 99.0V111.0M98.6 65.2V77.2M157.4 93.9V105.9M166.1 95.1V107.1M150.4 100.1V112.1M181.1 91.4V103.4M186.3 159.8V171.8M290.8 117.4V132.4M296.4 120.6V135.6M304.1 115.8V130.8M307.7 118.9V133.9M311.3 129.0V144.0M305.3 136.2V151.2M316.1 132.6V147.6M322.2 131.4V146.4M327.0 133.8V148.8M333.0 124.2V139.2M294.2 150.0V165.0M289.6 131.4V146.4M318.6 143.5V158.5M324.6 144.7V159.7M283.7 174.4V189.4M332.9 122.4V137.4M69.0 69.1V81.1M71.6 53.9V65.9M74.2 46.9V58.9M76.8 50.1V62.1M79.4 52.9V64.9M82.0 44.9V56.9M84.6 46.6V58.6M87.2 48.1V60.1M89.8 47.6V59.6M92.4 52.8V64.8M95.0 49.9V61.9M97.6 50.2V62.2M100.2 52.8V64.8M102.8 46.1V58.1M105.4 51.7V63.7M108.0 46.5V58.5M110.6 46.2V58.2M113.2 44.3V56.3M115.8 60.6V72.6M118.4 52.2V64.2M121.0 57.5V69.5M123.6 59.5V71.5M126.2 61.5V73.5M128.8 62.3V74.3M131.4 71.3V83.3M134.0 60.2V72.2M136.6 59.2V71.2M139.2 65.2V77.2M141.8 68.0V80.0M144.4 78.0V90.0M147.0 79.3V91.3M149.6 72.8V84.8M152.2 72.0V84.0M154.8 77.3V89.3M157.4 85.6V97.6M160.0 68.8V80.8M162.6 82.8V94.8M165.2 76.0V88.0M167.8 85.9V97.9M170.4 78.0V90.0M173.0 82.3V94.3M175.6 78.2V90.2M178.2 81.4V93.4M180.8 92.3V104.3M183.4 91.0V103.0"/>
<g fill="#2ca02c" stroke="#2ca02c" stroke-width="0.86">
<circle cx="130.7" cy="79.3" r="2.78"/>
<circle cx="134.7" cy="80.9" r="2.78"/>
<circle cx="141.9" cy="87.3" r="2.78"/>
<circle cx="154.8" cy="88.9" r="2.78"/>
<circle cx="159.6" cy="86.5" r="2.78"/>
<circle cx="181.4" cy="106.2" r="2.78"/>
<circle cx="183.3" cy="126.1" r="2.78"/>
<circle cx="298.1" cy="130.5" r="2.78"/>
<circle cx="313.7" cy="134.1" r="2.78"/>
<circle cx="318.6" cy="136.5" r="2.78"/>
<circle cx="316.1" cy="143.7" r="2.78"/>
<circle cx="324.6" cy="143.7" r="2.78"/>
<circle cx="328.2" cy="138.9" r="2.78"/>
<circle cx="312.5" cy="146.1" r="2.78"/>
<circle cx="103.7" cy="77.4" r="2.78"/>
<circle cx="121.5" cy="75.5" r="2.78"/>
<circle cx="125.0" cy="82.4" r="2.78"/>
<circle cx="131.5" cy="77.2" r="2.78"/>
<circle cx="153.6" cy="88.6" r="2.78"/>
<circle cx="142.2" cy="84.1" r="2.78"/>
<circle cx="146.2" cy="85.7" r="2.78"/>
<circle cx="171.0" cy="92.9" r="2.78"/>
<circle cx="89.9" cy="42.3" r="2.78"/>
<circle cx="101.1" cy="41.3" r="2.78"/>
<circle cx="67.0" cy="77.0" r="2.78"/>
<circle cx="63.7" cy="84.4" r="2.78"/>
<circle cx="64.8" cy="105.0" r="2.78"/>
<circle cx="98.6" cy="71.2" r="2.78"/>
<circle cx="157.4" cy="99.9" r="2.78"/>
<circle cx="166.1" cy="101.1" r="2.78"/>
<circle cx="150.4" cy="106.1" r="2.78"/>
<circle cx="181.1" cy="97.4" r="2.78"/>
<circle cx="186.3" cy="165.8" r="2.78"/>
<circle cx="290.8" cy="124.9" r="2.78"/>
<circle cx="296.4" cy="128.1" r="2.78"/>
<circle cx="304.1" cy="123.3" r="2.78"/>
<circle cx="307.7" cy="126.4" r="2.78"/>
<circle cx="311.3" cy="136.5" r="2.78"/>
<circle cx="305.3" cy="143.7" r="2.78"/>
<circle cx="316.1" cy="140.1" r="2.78"/>
<circle cx="322.2" cy="138.9" r="2.78"/>
<circle cx="327.0" cy="141.3" r="2.78"/>
<circle cx="333.0" cy="131.7" r="2.78"/>
<circle cx="294.2" cy="157.5" r="2.78"/>
<circle cx="289.6" cy="138.9" r="2.78"/>
<circle cx="318.6" cy="151.0" r="2.78"/>
<circle cx="324.6" cy="152.2" r="2.78"/>
<circle cx="283.7" cy="181.9" r="2.78"/>
<circle cx="332.9" cy="129.9" r="2.78"/>
<circle cx="69.0" cy="75.1" r="2.78"/>
<circle cx="71.6" cy="59.9" r="2.78"/>
<circle cx="74.2" cy="52.9" r="2.78"/>
<circle cx="76.8" cy="56.1" r="2.78"/>
<circle cx="79.4" cy="58.9" r="2.78"/>
<circle cx="82.0" cy="50.9" r="2.78"/>
<circle cx="84.6" cy="52.6" r="2.78"/>
<circle cx="87.2" cy="54.1" r="2.78"/>
<circle cx="89.8" cy="53.6" r="2.78"/>
<circle cx="92.4" cy="58.8" r="2.78"/>
<circle cx="95.0" cy="55.9" r="2.78"/>
<circle cx="97.6" cy="56.2" r="2.78"/>
<circle cx="100.2" cy="58.8" r="2.78"/>
<circle cx="102.8" cy="52.1" r="2.78"/>
<circle cx="105.4" cy="57.7" r="2.78"/>
<circle cx="108.0" cy="52.5" r="2.78"/>
<circle cx="110.6" cy="52.2" r="2.78"/>
<circle cx="113.2" cy="50.3" r="2.78"/>
<circle cx="115.8" cy="66.6" r="2.78"/>
<circle cx="118.4" cy="58.2" r="2.78"/>
<circle cx="121.0" cy="63.5" r="2.78"/>
<circle cx="123.6" cy="65.5" r="2.78"/>
<circle cx="126.2" cy="67.5" r="2.78"/>
<circle cx="128.8" cy="68.3" r="2.78"/>
<circle cx="131.4" cy="77.3" r="2.78"/>
<circle cx="134.0" cy="66.2" r="2.78"/>
<circle cx="136.6" cy="65.2" r="2.78"/>
<circle cx="139.2" cy="71.2" r="2.78"/>
<circle cx="141.8" cy="74.0" r="2.78"/>
<circle cx="144.4" cy="84.0" r="2.78"/>
<circle cx="147.0" cy="85.3" r="2.78"/>
<circle cx="149.6" cy="78.8" r="2.78"/>
<circle cx="152.2" cy="78.0" r="2.78"/>
<circle cx="154.8" cy="83.3" r="2.78"/>
<circle cx="157.4" cy="91.6" r="2.78"/>
<circle cx="160.0" cy="74.8" r="2.78"/>
<circle cx="162.6" cy="88.8" r="2.78"/>
<circle cx="165.2" cy="82.0" r="2.78"/>
<circle cx="167.8" cy="91.9" r="2.78"/>
<circle cx="170.4" cy="84.0" r="2.78"/>
<circle cx="173.0" cy="88.3" r="2.78"/>
<circle cx="175.6" cy="84.2" r="2.78"/>
<circle cx="178.2" cy="87.4" r="2.78"/>
<circle cx="180.8" cy="98.3" r="2.78"/>
<circle cx="183.4" cy="97.0" r="2.78"/>
</g>
<path d="M63.35 144.70 L63.60 138.67 L63.86 133.02 L64.11 127.74 L64.36 122.81 L64.62 118.19 L64.87 113.87 L65.12 109.84 L65.38 106.07 L65.63 102.54 L65.88 99.25 L66.14 96.17 L66.39 93.29 L66.64 90.60 L66.90 88.09 L67.15 85.74 L67.40 83.55 L67.66 81.51 L67.91 79.60 L68.16 77.81 L68.41 76.15 L68.67 74.60 L68.92 73.15 L69.17 71.80 L69.43 70.54 L69.68 69.37 L69.93 68.27 L70.19 67.26 L70.44 66.31 L70.69 65.43 L70.95 64.60 L71.20 63.84 L71.45 63.13 L71.71 62.47 L71.96 61.86 L72.21 61.29 L72.47 60.77 L72.72 60.28 L72.97 59.83 L73.23 59.41 L73.48 59.03 L73.73 58.67 L73.99 58.35 L74.24 58.04 L74.49 57.77 L74.75 57.51 L75.00 57.28 L75.25 57.07 L75.51 56.87 L75.76 56.70 L76.01 56.54 L76.27 56.39 L76.52 56.26 L76.77 56.15 L77.03 56.04 L77.28 55.95 L77.53 55.87 L77.79 55.80 L78.04 55.74 L78.29 55.69 L78.54 55.65 L78.80 55.61 L79.05 55.58 L79.30 55.56 L79.56 55.55 L79.81 55.54 L80.06 55.54 L80.32 55.54 L80.57 55.55 L80.82 55.56 L81.08 55.58 L81.33 55.60 L81.58 55.63 L81.84 55.66 L82.09 55.69 L82.34 55.72 L82.60 55.76 L82.85 55.80 L83.10 55.85 L83.36 55.89 L83.61 55.94 L83.86 55.99 L84.12 56.05 L84.37 56.10 L84.62 56.16 L84.88 56.21 L85.13 56.27 L85.38 56.33 L85.64 56.40 L85.89 56.46 L89.23 57.39 L92.58 58.42 L95.92 59.49 L99.26 60.60 L102.61 61.74 L105.95 62.90 L109.29 64.08 L112.64 65.31 L115.98 66.57 L119.32 67.86 L122.67 69.17 L126.01 70.51 L129.35 71.86 L132.69 73.21 L136.04 74.56 L139.38 75.90 L142.72 77.23 L146.07 78.54 L149.41 79.81 L152.75 81.05 L156.10 82.26 L159.44 83.46 L162.78 84.67 L166.13 85.91 L169.47 87.17 L172.81 88.45 L176.16 89.74 L179.50 91.03 L182.84 92.31 L183.85 105.00 L185.40 135.00 L188.20 198.00 M282.20 198.00 L286.35 131.10 L334.10 149.30" fill="none" stroke="#ff7f0e" stroke-width="1.4" stroke-linejoin="round"/>
</g>
<rect x="49.9" y="0.3" width="297.6" height="193.79999999999998" fill="none" stroke="#000" stroke-width="0.8"/>
<text x="63.35" y="207.70" text-anchor="middle">0</text>
<text x="100.91" y="207.70" text-anchor="middle">50</text>
<text x="138.48" y="207.70" text-anchor="middle">100</text>
<text x="176.04" y="207.70" text-anchor="middle">150</text>
<text x="213.61" y="207.70" text-anchor="middle">200</text>
<text x="251.17" y="207.70" text-anchor="middle">250</text>
<text x="288.74" y="207.70" text-anchor="middle">300</text>
<text x="326.30" y="207.70" text-anchor="middle">350</text>
<text x="43.30" y="197.60" text-anchor="end">999.6</text>
<text x="43.30" y="170.90" text-anchor="end">999.8</text>
<text x="43.30" y="144.20" text-anchor="end">1000.0</text>
<text x="43.30" y="117.50" text-anchor="end">1000.2</text>
<text x="43.30" y="90.80" text-anchor="end">1000.4</text>
<text x="43.30" y="64.10" text-anchor="end">1000.6</text>
<text x="43.30" y="37.40" text-anchor="end">1000.8</text>
<text x="43.30" y="10.70" text-anchor="end">1001.0</text>
<path d="M63.35 194.1v3.2 M100.91 194.1v3.2 M138.48 194.1v3.2 M176.04 194.1v3.2 M213.61 194.1v3.2 M251.17 194.1v3.2 M288.74 194.1v3.2 M326.30 194.1v3.2 M49.9 194.10h-3.2 M49.9 167.40h-3.2 M49.9 140.70h-3.2 M49.9 114.00h-3.2 M49.9 87.30h-3.2 M49.9 60.60h-3.2 M49.9 33.90h-3.2 M49.9 7.20h-3.2" stroke="#000" stroke-width="0.8" fill="none"/>
<text x="198.70" y="219.8" text-anchor="middle">Time (min) after start</text>
<text transform="translate(7.70 97.20) rotate(-90)" text-anchor="middle">Normalized Flux (ppt)</text>
<rect x="257.50" y="5.0" width="85.9" height="41.6" rx="1.7" fill="#fff" fill-opacity="0.8" stroke="#ccc" stroke-width="0.86"/>
<circle cx="270.30" cy="12.4" r="2.78" fill="#1f77b4" stroke="#1f77b4" stroke-width="0.86"/>
<path d="M260.60 25.3h19.4" stroke="#ff7f0e" stroke-width="1.29"/>
<path d="M270.30 33.4v10" stroke="#2ca02c" stroke-width="1.29"/>
<circle cx="270.30" cy="38.4" r="2.78" fill="#2ca02c" stroke="#2ca02c" stroke-width="0.86"/>
<text x="286.35" y="15.3">data</text>
<text x="286.35" y="28.3"><tspan font-style="italic">τ</tspan>= 5.1 min</text>
<text x="286.35" y="41.6">binned data</text>
<clipPath id="c1"><rect x="427.15" y="0.3" width="297.6" height="193.79999999999998"/></clipPath>
<g clip-path="url(#c1)">
<g fill="#1f77b4" stroke="#1f77b4" stroke-width="0.86">
<circle cx="487.9" cy="76.0" r="2.78"/>
<circle cx="484.6" cy="80.9" r="2.78"/>
<circle cx="491.9" cy="88.9" r="2.78"/>
<circle cx="499.9" cy="86.5" r="2.78"/>
<circle cx="503.1" cy="91.3" r="2.78"/>
<circle cx="507.9" cy="97.7" r="2.78"/>
<circle cx="498.2" cy="80.9" r="2.78"/>
<circle cx="507.1" cy="79.3" r="2.78"/>
<circle cx="510.4" cy="84.1" r="2.78"/>
<circle cx="515.1" cy="92.1" r="2.78"/>
<circle cx="516.8" cy="87.3" r="2.78"/>
<circle cx="522.4" cy="93.7" r="2.78"/>
<circle cx="524.8" cy="87.3" r="2.78"/>
<circle cx="528.8" cy="92.1" r="2.78"/>
<circle cx="530.5" cy="87.3" r="2.78"/>
<circle cx="533.6" cy="94.5" r="2.78"/>
<circle cx="538.5" cy="92.1" r="2.78"/>
<circle cx="527.1" cy="97.7" r="2.78"/>
<circle cx="535.2" cy="98.5" r="2.78"/>
<circle cx="527.2" cy="125.5" r="2.78"/>
<circle cx="528.4" cy="138.1" r="2.78"/>
<circle cx="557.5" cy="109.8" r="2.78"/>
<circle cx="557.5" cy="120.7" r="2.78"/>
<circle cx="561.8" cy="124.3" r="2.78"/>
<circle cx="563.5" cy="127.3" r="2.78"/>
<circle cx="555.6" cy="133.9" r="2.78"/>
<circle cx="547.9" cy="126.0" r="2.78"/>
<circle cx="456.9" cy="36.2" r="2.78"/>
<circle cx="460.6" cy="38.0" r="2.78"/>
<circle cx="464.4" cy="42.0" r="2.78"/>
<circle cx="454.9" cy="43.7" r="2.78"/>
<circle cx="459.4" cy="45.0" r="2.78"/>
<circle cx="450.6" cy="46.2" r="2.78"/>
<circle cx="446.9" cy="47.4" r="2.78"/>
<circle cx="498.1" cy="40.0" r="2.78"/>
<circle cx="501.9" cy="38.7" r="2.78"/>
<circle cx="486.9" cy="43.7" r="2.78"/>
<circle cx="494.4" cy="45.0" r="2.78"/>
<circle cx="449.2" cy="35.5" r="2.78"/>
<circle cx="462.2" cy="40.5" r="2.78"/>
<circle cx="444.9" cy="65.4" r="2.78"/>
<circle cx="441.9" cy="72.0" r="2.78"/>
<circle cx="442.6" cy="81.1" r="2.78"/>
<circle cx="446.8" cy="87.1" r="2.78"/>
<circle cx="450.9" cy="82.3" r="2.78"/>
<circle cx="453.9" cy="78.1" r="2.78"/>
<circle cx="456.9" cy="84.1" r="2.78"/>
<circle cx="462.4" cy="85.9" r="2.78"/>
<circle cx="461.1" cy="72.0" r="2.78"/>
<circle cx="465.4" cy="68.4" r="2.78"/>
<circle cx="467.9" cy="75.7" r="2.78"/>
<circle cx="470.2" cy="78.1" r="2.78"/>
<circle cx="463.6" cy="79.3" r="2.78"/>
<circle cx="441.2" cy="96.0" r="2.78"/>
<circle cx="444.9" cy="95.4" r="2.78"/>
<circle cx="446.4" cy="101.4" r="2.78"/>
<circle cx="454.9" cy="104.8" r="2.78"/>
<circle cx="455.6" cy="96.6" r="2.78"/>
<circle cx="458.9" cy="94.8" r="2.78"/>
<circle cx="471.1" cy="95.8" r="2.78"/>
<circle cx="460.1" cy="112.3" r="2.78"/>
<circle cx="456.4" cy="10.2" r="2.78"/>
<circle cx="460.4" cy="15.0" r="2.78"/>
<circle cx="476.4" cy="12.0" r="2.78"/>
<circle cx="487.1" cy="8.2" r="2.78"/>
<circle cx="470.1" cy="20.0" r="2.78"/>
<circle cx="449.1" cy="21.9" r="2.78"/>
<circle cx="452.9" cy="25.7" r="2.78"/>
<circle cx="462.1" cy="26.9" r="2.78"/>
<circle cx="465.1" cy="25.4" r="2.78"/>
<circle cx="467.1" cy="24.9" r="2.78"/>
<circle cx="478.4" cy="24.2" r="2.78"/>
<circle cx="482.9" cy="28.7" r="2.78"/>
<circle cx="478.4" cy="31.9" r="2.78"/>
<circle cx="501.6" cy="29.4" r="2.78"/>
<circle cx="450.9" cy="31.2" r="2.78"/>
<circle cx="454.1" cy="33.7" r="2.78"/>
<circle cx="457.1" cy="36.9" r="2.78"/>
<circle cx="460.4" cy="37.4" r="2.78"/>
<circle cx="448.4" cy="39.4" r="2.78"/>
<circle cx="452.6" cy="39.9" r="2.78"/>
<circle cx="446.8" cy="47.4" r="2.78"/>
<circle cx="480.1" cy="34.9" r="2.78"/>
<circle cx="483.4" cy="37.4" r="2.78"/>
<circle cx="488.4" cy="37.4" r="2.78"/>
<circle cx="494.6" cy="39.4" r="2.78"/>
<circle cx="505.9" cy="39.9" r="2.78"/>
<circle cx="510.8" cy="41.1" r="2.78"/>
<circle cx="515.8" cy="37.4" r="2.78"/>
<circle cx="515.8" cy="44.9" r="2.78"/>
<circle cx="489.6" cy="42.4" r="2.78"/>
<circle cx="499.6" cy="44.9" r="2.78"/>
<circle cx="504.6" cy="46.1" r="2.78"/>
<circle cx="517.2" cy="37.0" r="2.78"/>
<circle cx="509.8" cy="41.2" r="2.78"/>
<circle cx="516.0" cy="43.2" r="2.78"/>
<circle cx="523.5" cy="52.9" r="2.78"/>
<circle cx="550.9" cy="51.7" r="2.78"/>
<circle cx="533.5" cy="56.2" r="2.78"/>
<circle cx="509.8" cy="57.4" r="2.78"/>
<circle cx="516.0" cy="57.4" r="2.78"/>
<circle cx="528.5" cy="61.1" r="2.78"/>
<circle cx="537.1" cy="61.9" r="2.78"/>
<circle cx="519.8" cy="62.4" r="2.78"/>
<circle cx="521.0" cy="67.4" r="2.78"/>
<circle cx="528.5" cy="68.6" r="2.78"/>
<circle cx="537.1" cy="66.1" r="2.78"/>
<circle cx="543.5" cy="67.4" r="2.78"/>
<circle cx="548.4" cy="66.1" r="2.78"/>
<circle cx="553.4" cy="66.1" r="2.78"/>
<circle cx="554.6" cy="69.9" r="2.78"/>
<circle cx="536.0" cy="72.9" r="2.78"/>
<circle cx="542.1" cy="72.4" r="2.78"/>
<circle cx="547.1" cy="73.6" r="2.78"/>
<circle cx="553.4" cy="74.9" r="2.78"/>
<circle cx="558.4" cy="76.1" r="2.78"/>
<circle cx="563.4" cy="76.9" r="2.78"/>
<circle cx="524.8" cy="71.1" r="2.78"/>
<circle cx="442.2" cy="76.9" r="2.78"/>
<circle cx="445.9" cy="76.2" r="2.78"/>
<circle cx="452.1" cy="79.9" r="2.78"/>
<circle cx="447.2" cy="87.4" r="2.78"/>
<circle cx="441.8" cy="93.7" r="2.78"/>
<circle cx="440.2" cy="96.9" r="2.78"/>
<circle cx="441.8" cy="106.1" r="2.78"/>
<circle cx="444.2" cy="102.9" r="2.78"/>
<circle cx="448.4" cy="101.1" r="2.78"/>
<circle cx="454.6" cy="104.9" r="2.78"/>
<circle cx="457.1" cy="94.9" r="2.78"/>
<circle cx="460.1" cy="112.9" r="2.78"/>
<circle cx="471.6" cy="95.4" r="2.78"/>
<circle cx="486.6" cy="98.6" r="2.78"/>
<circle cx="492.1" cy="88.7" r="2.78"/>
<circle cx="502.1" cy="107.9" r="2.78"/>
<circle cx="507.1" cy="107.4" r="2.78"/>
<circle cx="514.5" cy="108.6" r="2.78"/>
<circle cx="508.2" cy="97.4" r="2.78"/>
<circle cx="504.6" cy="93.7" r="2.78"/>
<circle cx="500.9" cy="87.4" r="2.78"/>
<circle cx="457.1" cy="85.4" r="2.78"/>
<circle cx="462.1" cy="85.4" r="2.78"/>
<circle cx="452.1" cy="78.7" r="2.78"/>
<circle cx="454.6" cy="76.2" r="2.78"/>
<circle cx="459.6" cy="73.7" r="2.78"/>
<circle cx="464.6" cy="73.0" r="2.78"/>
<circle cx="467.1" cy="79.9" r="2.78"/>
<circle cx="470.9" cy="77.4" r="2.78"/>
<circle cx="475.9" cy="82.9" r="2.78"/>
<circle cx="482.1" cy="79.9" r="2.78"/>
<circle cx="488.4" cy="77.9" r="2.78"/>
<circle cx="487.1" cy="75.0" r="2.78"/>
<circle cx="495.9" cy="76.2" r="2.78"/>
<circle cx="502.1" cy="79.9" r="2.78"/>
<circle cx="509.6" cy="82.4" r="2.78"/>
<circle cx="513.2" cy="86.2" r="2.78"/>
<circle cx="442.2" cy="117.4" r="2.78"/>
<circle cx="442.2" cy="111.9" r="2.78"/>
<circle cx="475.6" cy="126.4" r="2.78"/>
<circle cx="440.6" cy="179.1" r="2.78"/>
<circle cx="455.1" cy="96.7" r="2.78"/>
<circle cx="458.9" cy="94.2" r="2.78"/>
<circle cx="501.8" cy="107.4" r="2.78"/>
<circle cx="507.2" cy="108.6" r="2.78"/>
<circle cx="510.9" cy="112.4" r="2.78"/>
<circle cx="514.2" cy="104.9" r="2.78"/>
<circle cx="518.5" cy="106.1" r="2.78"/>
<circle cx="521.0" cy="113.6" r="2.78"/>
<circle cx="524.6" cy="107.4" r="2.78"/>
<circle cx="507.2" cy="97.4" r="2.78"/>
<circle cx="502.2" cy="92.4" r="2.78"/>
<circle cx="534.6" cy="113.6" r="2.78"/>
<circle cx="540.9" cy="112.4" r="2.78"/>
<circle cx="544.6" cy="116.9" r="2.78"/>
<circle cx="542.6" cy="119.9" r="2.78"/>
<circle cx="550.9" cy="104.9" r="2.78"/>
<circle cx="555.9" cy="103.6" r="2.78"/>
<circle cx="559.5" cy="109.9" r="2.78"/>
<circle cx="554.1" cy="66.2" r="2.78"/>
<circle cx="562.5" cy="77.0" r="2.78"/>
<circle cx="560.9" cy="83.7" r="2.78"/>
<circle cx="557.1" cy="87.9" r="2.78"/>
<circle cx="537.0" cy="107.7" r="2.78"/>
<circle cx="544.2" cy="116.0" r="2.78"/>
<circle cx="545.5" cy="129.4" r="2.78"/>
<circle cx="534.1" cy="132.5" r="2.78"/>
<circle cx="563.0" cy="131.8" r="2.78"/>
<circle cx="558.8" cy="145.8" r="2.78"/>
<circle cx="560.6" cy="148.3" r="2.78"/>
<circle cx="563.0" cy="150.7" r="2.78"/>
<circle cx="561.6" cy="162.0" r="2.78"/>
<circle cx="564.8" cy="176.0" r="2.78"/>
<circle cx="565.5" cy="178.4" r="2.78"/>
<circle cx="563.5" cy="179.6" r="2.78"/>
<circle cx="564.8" cy="183.2" r="2.78"/>
<circle cx="663.5" cy="84.5" r="2.78"/>
<circle cx="674.1" cy="95.0" r="2.78"/>
<circle cx="670.2" cy="99.2" r="2.78"/>
<circle cx="684.6" cy="97.4" r="2.78"/>
<circle cx="681.0" cy="101.2" r="2.78"/>
<circle cx="677.1" cy="103.7" r="2.78"/>
<circle cx="689.0" cy="104.9" r="2.78"/>
<circle cx="710.1" cy="98.7" r="2.78"/>
<circle cx="669.2" cy="108.7" r="2.78"/>
<circle cx="711.4" cy="112.4" r="2.78"/>
<circle cx="664.8" cy="116.1" r="2.78"/>
<circle cx="671.0" cy="114.9" r="2.78"/>
<circle cx="677.1" cy="113.7" r="2.78"/>
<circle cx="683.5" cy="116.1" r="2.78"/>
<circle cx="689.6" cy="116.1" r="2.78"/>
<circle cx="695.9" cy="116.1" r="2.78"/>
<circle cx="700.9" cy="117.4" r="2.78"/>
<circle cx="705.9" cy="119.9" r="2.78"/>
<circle cx="710.1" cy="117.4" r="2.78"/>
<circle cx="664.8" cy="121.1" r="2.78"/>
<circle cx="662.2" cy="128.6" r="2.78"/>
<circle cx="692.1" cy="121.1" r="2.78"/>
<circle cx="698.4" cy="123.6" r="2.78"/>
<circle cx="703.4" cy="124.9" r="2.78"/>
<circle cx="689.6" cy="126.1" r="2.78"/>
<circle cx="712.1" cy="124.9" r="2.78"/>
<circle cx="659.2" cy="141.5" r="2.78"/>
<circle cx="663.5" cy="144.5" r="2.78"/>
<circle cx="664.8" cy="149.5" r="2.78"/>
<circle cx="664.8" cy="156.9" r="2.78"/>
<circle cx="662.8" cy="163.9" r="2.78"/>
<circle cx="664.2" cy="169.4" r="2.78"/>
<circle cx="663.5" cy="178.1" r="2.78"/>
<circle cx="662.2" cy="185.6" r="2.78"/>
<circle cx="661.2" cy="190.5" r="2.78"/>
<circle cx="671.0" cy="147.0" r="2.78"/>
<circle cx="676.0" cy="145.7" r="2.78"/>
<circle cx="684.6" cy="155.7" r="2.78"/>
<circle cx="682.1" cy="159.4" r="2.78"/>
<circle cx="684.1" cy="163.2" r="2.78"/>
<circle cx="688.5" cy="156.9" r="2.78"/>
<circle cx="698.4" cy="166.9" r="2.78"/>
<circle cx="692.1" cy="170.7" r="2.78"/>
<circle cx="696.6" cy="171.9" r="2.78"/>
<circle cx="699.1" cy="177.4" r="2.78"/>
<circle cx="693.4" cy="179.4" r="2.78"/>
<circle cx="689.6" cy="181.9" r="2.78"/>
<circle cx="697.9" cy="187.8" r="2.78"/>
<circle cx="702.1" cy="190.6" r="2.78"/>
<circle cx="708.4" cy="158.2" r="2.78"/>
<circle cx="710.9" cy="156.9" r="2.78"/>
<circle cx="707.1" cy="163.2" r="2.78"/>
<circle cx="705.9" cy="165.7" r="2.78"/>
<circle cx="712.1" cy="150.7" r="2.78"/>
<circle cx="702.1" cy="153.2" r="2.78"/>
<circle cx="698.4" cy="152.0" r="2.78"/>
<circle cx="445.1" cy="78.6" r="2.78"/>
<circle cx="445.6" cy="79.1" r="2.78"/>
<circle cx="446.0" cy="64.4" r="2.78"/>
<circle cx="446.5" cy="54.5" r="2.78"/>
<circle cx="447.0" cy="72.1" r="2.78"/>
<circle cx="447.4" cy="57.8" r="2.78"/>
<circle cx="447.9" cy="54.9" r="2.78"/>
<circle cx="448.4" cy="59.7" r="2.78"/>
<circle cx="448.8" cy="70.7" r="2.78"/>
<circle cx="449.3" cy="60.2" r="2.78"/>
<circle cx="449.8" cy="49.1" r="2.78"/>
<circle cx="450.1" cy="75.4" r="2.78"/>
<circle cx="450.2" cy="43.9" r="2.78"/>
<circle cx="450.5" cy="73.5" r="2.78"/>
<circle cx="450.7" cy="53.7" r="2.78"/>
<circle cx="451.2" cy="57.2" r="2.78"/>
<circle cx="451.6" cy="53.3" r="2.78"/>
<circle cx="452.1" cy="40.7" r="2.78"/>
<circle cx="452.4" cy="73.0" r="2.78"/>
<circle cx="452.6" cy="45.0" r="2.78"/>
<circle cx="453.0" cy="39.8" r="2.78"/>
<circle cx="453.5" cy="43.3" r="2.78"/>
<circle cx="454.0" cy="61.2" r="2.78"/>
<circle cx="454.4" cy="60.2" r="2.78"/>
<circle cx="454.9" cy="57.4" r="2.78"/>
<circle cx="455.2" cy="69.8" r="2.78"/>
<circle cx="455.4" cy="51.4" r="2.78"/>
<circle cx="455.8" cy="47.7" r="2.78"/>
<circle cx="456.3" cy="40.1" r="2.78"/>
<circle cx="456.8" cy="46.6" r="2.78"/>
<circle cx="457.1" cy="72.5" r="2.78"/>
<circle cx="457.2" cy="48.0" r="2.78"/>
<circle cx="457.7" cy="53.3" r="2.78"/>
<circle cx="458.2" cy="54.5" r="2.78"/>
<circle cx="458.6" cy="42.4" r="2.78"/>
<circle cx="459.1" cy="44.6" r="2.78"/>
<circle cx="459.5" cy="41.1" r="2.78"/>
<circle cx="460.0" cy="44.2" r="2.78"/>
<circle cx="460.5" cy="46.4" r="2.78"/>
<circle cx="460.9" cy="55.5" r="2.78"/>
<circle cx="461.2" cy="73.3" r="2.78"/>
<circle cx="461.4" cy="62.7" r="2.78"/>
<circle cx="461.9" cy="53.4" r="2.78"/>
<circle cx="462.2" cy="66.3" r="2.78"/>
<circle cx="462.3" cy="62.5" r="2.78"/>
<circle cx="462.8" cy="43.9" r="2.78"/>
<circle cx="463.3" cy="55.5" r="2.78"/>
<circle cx="463.7" cy="49.0" r="2.78"/>
<circle cx="464.2" cy="45.7" r="2.78"/>
<circle cx="464.5" cy="74.4" r="2.78"/>
<circle cx="464.7" cy="51.6" r="2.78"/>
<circle cx="465.1" cy="48.1" r="2.78"/>
<circle cx="465.6" cy="40.8" r="2.78"/>
<circle cx="466.1" cy="41.0" r="2.78"/>
<circle cx="466.4" cy="75.9" r="2.78"/>
<circle cx="466.5" cy="56.8" r="2.78"/>
<circle cx="467.0" cy="53.6" r="2.78"/>
<circle cx="467.5" cy="49.3" r="2.78"/>
<circle cx="467.9" cy="57.9" r="2.78"/>
<circle cx="468.4" cy="53.9" r="2.78"/>
<circle cx="468.9" cy="63.8" r="2.78"/>
<circle cx="469.2" cy="76.4" r="2.78"/>
<circle cx="469.3" cy="41.4" r="2.78"/>
<circle cx="469.8" cy="61.7" r="2.78"/>
<circle cx="470.1" cy="71.0" r="2.78"/>
<circle cx="470.3" cy="61.9" r="2.78"/>
<circle cx="470.6" cy="73.5" r="2.78"/>
<circle cx="470.7" cy="61.5" r="2.78"/>
<circle cx="471.2" cy="60.0" r="2.78"/>
<circle cx="471.7" cy="47.0" r="2.78"/>
<circle cx="472.1" cy="46.6" r="2.78"/>
<circle cx="472.6" cy="66.0" r="2.78"/>
<circle cx="473.1" cy="51.0" r="2.78"/>
<circle cx="473.5" cy="66.4" r="2.78"/>
<circle cx="474.0" cy="67.3" r="2.78"/>
<circle cx="474.5" cy="55.9" r="2.78"/>
<circle cx="474.9" cy="61.6" r="2.78"/>
<circle cx="475.4" cy="53.9" r="2.78"/>
<circle cx="475.9" cy="53.7" r="2.78"/>
<circle cx="476.3" cy="45.3" r="2.78"/>
<circle cx="476.8" cy="56.7" r="2.78"/>
<circle cx="477.2" cy="50.1" r="2.78"/>
<circle cx="477.7" cy="60.9" r="2.78"/>
<circle cx="478.2" cy="59.9" r="2.78"/>
<circle cx="478.6" cy="52.6" r="2.78"/>
<circle cx="479.1" cy="49.6" r="2.78"/>
<circle cx="479.4" cy="71.8" r="2.78"/>
<circle cx="479.6" cy="67.5" r="2.78"/>
<circle cx="480.0" cy="47.6" r="2.78"/>
<circle cx="480.5" cy="56.9" r="2.78"/>
<circle cx="481.0" cy="61.6" r="2.78"/>
<circle cx="481.4" cy="69.3" r="2.78"/>
<circle cx="481.9" cy="61.2" r="2.78"/>
<circle cx="482.4" cy="50.2" r="2.78"/>
<circle cx="482.7" cy="75.1" r="2.78"/>
<circle cx="482.8" cy="64.9" r="2.78"/>
<circle cx="483.3" cy="64.2" r="2.78"/>
<circle cx="483.6" cy="81.0" r="2.78"/>
<circle cx="483.8" cy="66.2" r="2.78"/>
<circle cx="484.2" cy="59.3" r="2.78"/>
<circle cx="484.7" cy="47.6" r="2.78"/>
<circle cx="485.0" cy="71.7" r="2.78"/>
<circle cx="485.2" cy="52.9" r="2.78"/>
<circle cx="485.6" cy="51.4" r="2.78"/>
<circle cx="486.1" cy="47.9" r="2.78"/>
<circle cx="486.6" cy="51.2" r="2.78"/>
<circle cx="487.0" cy="47.8" r="2.78"/>
<circle cx="487.5" cy="70.9" r="2.78"/>
<circle cx="488.0" cy="67.9" r="2.78"/>
<circle cx="488.4" cy="63.0" r="2.78"/>
<circle cx="488.7" cy="79.1" r="2.78"/>
<circle cx="488.9" cy="48.9" r="2.78"/>
<circle cx="489.4" cy="72.0" r="2.78"/>
<circle cx="489.8" cy="47.7" r="2.78"/>
<circle cx="490.3" cy="55.0" r="2.78"/>
<circle cx="490.6" cy="80.3" r="2.78"/>
<circle cx="490.8" cy="68.2" r="2.78"/>
<circle cx="491.2" cy="70.1" r="2.78"/>
<circle cx="491.7" cy="50.5" r="2.78"/>
<circle cx="492.2" cy="71.0" r="2.78"/>
<circle cx="492.5" cy="80.5" r="2.78"/>
<circle cx="492.6" cy="64.6" r="2.78"/>
<circle cx="493.1" cy="50.1" r="2.78"/>
<circle cx="493.6" cy="64.8" r="2.78"/>
<circle cx="494.0" cy="69.6" r="2.78"/>
<circle cx="494.5" cy="67.5" r="2.78"/>
<circle cx="494.9" cy="72.3" r="2.78"/>
<circle cx="495.2" cy="75.5" r="2.78"/>
<circle cx="495.4" cy="66.0" r="2.78"/>
<circle cx="495.7" cy="81.6" r="2.78"/>
<circle cx="495.9" cy="74.1" r="2.78"/>
<circle cx="496.3" cy="55.6" r="2.78"/>
<circle cx="496.8" cy="66.7" r="2.78"/>
<circle cx="497.1" cy="80.1" r="2.78"/>
<circle cx="497.3" cy="52.7" r="2.78"/>
<circle cx="497.7" cy="71.7" r="2.78"/>
<circle cx="498.2" cy="59.5" r="2.78"/>
<circle cx="498.7" cy="55.5" r="2.78"/>
<circle cx="499.1" cy="58.8" r="2.78"/>
<circle cx="499.6" cy="53.0" r="2.78"/>
<circle cx="500.1" cy="77.3" r="2.78"/>
<circle cx="500.5" cy="71.3" r="2.78"/>
<circle cx="501.0" cy="61.4" r="2.78"/>
<circle cx="501.5" cy="53.6" r="2.78"/>
<circle cx="501.9" cy="78.5" r="2.78"/>
<circle cx="502.4" cy="55.9" r="2.78"/>
<circle cx="502.9" cy="56.1" r="2.78"/>
<circle cx="503.3" cy="56.2" r="2.78"/>
<circle cx="503.8" cy="54.7" r="2.78"/>
<circle cx="504.3" cy="84.5" r="2.78"/>
<circle cx="504.7" cy="61.8" r="2.78"/>
<circle cx="505.2" cy="63.3" r="2.78"/>
<circle cx="505.7" cy="82.5" r="2.78"/>
<circle cx="506.1" cy="75.0" r="2.78"/>
<circle cx="506.6" cy="59.6" r="2.78"/>
<circle cx="507.1" cy="68.7" r="2.78"/>
<circle cx="507.5" cy="85.1" r="2.78"/>
<circle cx="508.0" cy="66.9" r="2.78"/>
<circle cx="508.5" cy="79.2" r="2.78"/>
<circle cx="508.9" cy="57.3" r="2.78"/>
<circle cx="509.4" cy="80.2" r="2.78"/>
<circle cx="509.9" cy="82.1" r="2.78"/>
<circle cx="510.3" cy="84.1" r="2.78"/>
<circle cx="510.8" cy="78.8" r="2.78"/>
<circle cx="511.3" cy="68.1" r="2.78"/>
<circle cx="511.7" cy="57.2" r="2.78"/>
<circle cx="512.2" cy="73.8" r="2.78"/>
<circle cx="512.6" cy="82.6" r="2.78"/>
<circle cx="513.1" cy="62.4" r="2.78"/>
<circle cx="513.6" cy="65.3" r="2.78"/>
<circle cx="514.0" cy="75.2" r="2.78"/>
<circle cx="514.5" cy="83.0" r="2.78"/>
<circle cx="515.0" cy="88.5" r="2.78"/>
<circle cx="515.4" cy="61.0" r="2.78"/>
<circle cx="515.9" cy="63.2" r="2.78"/>
<circle cx="516.4" cy="85.6" r="2.78"/>
<circle cx="516.8" cy="80.2" r="2.78"/>
<circle cx="517.3" cy="83.1" r="2.78"/>
<circle cx="517.8" cy="93.2" r="2.78"/>
<circle cx="518.2" cy="91.4" r="2.78"/>
<circle cx="518.7" cy="88.1" r="2.78"/>
<circle cx="519.2" cy="85.9" r="2.78"/>
<circle cx="519.6" cy="72.3" r="2.78"/>
<circle cx="520.1" cy="81.4" r="2.78"/>
<circle cx="520.6" cy="65.1" r="2.78"/>
<circle cx="521.0" cy="86.0" r="2.78"/>
<circle cx="521.5" cy="86.1" r="2.78"/>
<circle cx="522.0" cy="85.0" r="2.78"/>
<circle cx="522.4" cy="75.2" r="2.78"/>
<circle cx="522.9" cy="73.0" r="2.78"/>
<circle cx="523.4" cy="74.7" r="2.78"/>
<circle cx="523.8" cy="60.9" r="2.78"/>
<circle cx="524.3" cy="90.3" r="2.78"/>
<circle cx="524.8" cy="79.6" r="2.78"/>
<circle cx="525.2" cy="74.2" r="2.78"/>
<circle cx="525.7" cy="80.2" r="2.78"/>
<circle cx="526.2" cy="86.6" r="2.78"/>
<circle cx="526.6" cy="74.5" r="2.78"/>
<circle cx="527.1" cy="90.9" r="2.78"/>
<circle cx="527.6" cy="94.2" r="2.78"/>
<circle cx="528.0" cy="75.3" r="2.78"/>
<circle cx="528.5" cy="66.5" r="2.78"/>
<circle cx="529.0" cy="89.0" r="2.78"/>
<circle cx="529.4" cy="97.6" r="2.78"/>
<circle cx="529.9" cy="67.3" r="2.78"/>
<circle cx="530.4" cy="87.8" r="2.78"/>
<circle cx="530.8" cy="92.1" r="2.78"/>
<circle cx="531.3" cy="95.7" r="2.78"/>
<circle cx="531.7" cy="67.1" r="2.78"/>
<circle cx="532.2" cy="66.2" r="2.78"/>
<circle cx="532.7" cy="98.6" r="2.78"/>
<circle cx="533.1" cy="67.4" r="2.78"/>
<circle cx="533.6" cy="69.7" r="2.78"/>
<circle cx="534.1" cy="84.2" r="2.78"/>
<circle cx="534.5" cy="79.8" r="2.78"/>
<circle cx="535.0" cy="90.9" r="2.78"/>
<circle cx="535.5" cy="70.9" r="2.78"/>
<circle cx="535.9" cy="97.1" r="2.78"/>
<circle cx="536.4" cy="72.2" r="2.78"/>
<circle cx="536.9" cy="92.2" r="2.78"/>
<circle cx="537.3" cy="67.1" r="2.78"/>
<circle cx="537.8" cy="81.9" r="2.78"/>
<circle cx="538.3" cy="66.2" r="2.78"/>
<circle cx="538.7" cy="76.5" r="2.78"/>
<circle cx="539.2" cy="76.6" r="2.78"/>
<circle cx="539.7" cy="91.4" r="2.78"/>
<circle cx="540.1" cy="82.1" r="2.78"/>
<circle cx="540.6" cy="67.9" r="2.78"/>
<circle cx="541.1" cy="101.9" r="2.78"/>
<circle cx="541.5" cy="98.2" r="2.78"/>
<circle cx="542.0" cy="99.4" r="2.78"/>
<circle cx="542.5" cy="75.4" r="2.78"/>
<circle cx="542.9" cy="80.9" r="2.78"/>
<circle cx="543.4" cy="75.1" r="2.78"/>
<circle cx="543.9" cy="71.6" r="2.78"/>
<circle cx="544.3" cy="68.5" r="2.78"/>
<circle cx="544.8" cy="85.6" r="2.78"/>
<circle cx="545.3" cy="72.1" r="2.78"/>
<circle cx="545.7" cy="74.1" r="2.78"/>
<circle cx="546.2" cy="98.9" r="2.78"/>
<circle cx="546.7" cy="85.6" r="2.78"/>
<circle cx="547.1" cy="74.9" r="2.78"/>
<circle cx="547.6" cy="92.6" r="2.78"/>
<circle cx="548.1" cy="78.3" r="2.78"/>
<circle cx="548.5" cy="87.8" r="2.78"/>
<circle cx="549.0" cy="79.2" r="2.78"/>
<circle cx="549.4" cy="87.8" r="2.78"/>
<circle cx="549.9" cy="92.0" r="2.78"/>
<circle cx="550.4" cy="88.9" r="2.78"/>
<circle cx="550.8" cy="84.0" r="2.78"/>
<circle cx="551.3" cy="98.4" r="2.78"/>
<circle cx="551.8" cy="101.6" r="2.78"/>
<circle cx="552.2" cy="76.7" r="2.78"/>
<circle cx="552.7" cy="75.4" r="2.78"/>
<circle cx="553.2" cy="74.7" r="2.78"/>
<circle cx="553.6" cy="106.1" r="2.78"/>
<circle cx="554.1" cy="104.9" r="2.78"/>
<circle cx="554.6" cy="79.5" r="2.78"/>
<circle cx="555.0" cy="106.3" r="2.78"/>
<circle cx="555.5" cy="79.0" r="2.78"/>
<circle cx="556.0" cy="90.0" r="2.78"/>
<circle cx="556.4" cy="89.8" r="2.78"/>
<circle cx="556.9" cy="105.0" r="2.78"/>
<circle cx="557.4" cy="73.7" r="2.78"/>
<circle cx="557.8" cy="83.8" r="2.78"/>
<circle cx="558.3" cy="94.2" r="2.78"/>
<circle cx="558.8" cy="75.2" r="2.78"/>
<circle cx="559.2" cy="81.5" r="2.78"/>
<circle cx="559.7" cy="89.9" r="2.78"/>
<circle cx="560.2" cy="105.0" r="2.78"/>
<circle cx="560.6" cy="100.9" r="2.78"/>
<circle cx="663.7" cy="121.0" r="2.78"/>
<circle cx="664.3" cy="132.6" r="2.78"/>
<circle cx="664.9" cy="121.4" r="2.78"/>
<circle cx="665.5" cy="142.0" r="2.78"/>
<circle cx="666.1" cy="141.8" r="2.78"/>
<circle cx="666.7" cy="142.2" r="2.78"/>
<circle cx="667.3" cy="128.4" r="2.78"/>
<circle cx="667.9" cy="137.6" r="2.78"/>
<circle cx="668.5" cy="132.0" r="2.78"/>
<circle cx="669.1" cy="129.9" r="2.78"/>
<circle cx="669.7" cy="130.6" r="2.78"/>
<circle cx="670.3" cy="122.1" r="2.78"/>
<circle cx="670.9" cy="121.1" r="2.78"/>
<circle cx="671.5" cy="141.5" r="2.78"/>
<circle cx="672.2" cy="132.8" r="2.78"/>
<circle cx="672.8" cy="136.7" r="2.78"/>
<circle cx="673.4" cy="144.0" r="2.78"/>
<circle cx="674.0" cy="121.2" r="2.78"/>
<circle cx="674.6" cy="128.4" r="2.78"/>
<circle cx="675.2" cy="137.3" r="2.78"/>
<circle cx="675.8" cy="139.4" r="2.78"/>
<circle cx="676.4" cy="132.7" r="2.78"/>
<circle cx="677.0" cy="145.6" r="2.78"/>
<circle cx="677.6" cy="138.5" r="2.78"/>
<circle cx="678.2" cy="125.9" r="2.78"/>
<circle cx="678.8" cy="128.7" r="2.78"/>
<circle cx="679.4" cy="144.5" r="2.78"/>
<circle cx="680.0" cy="141.7" r="2.78"/>
<circle cx="680.6" cy="123.7" r="2.78"/>
<circle cx="681.2" cy="150.1" r="2.78"/>
<circle cx="681.8" cy="143.6" r="2.78"/>
<circle cx="682.4" cy="150.5" r="2.78"/>
<circle cx="683.0" cy="135.2" r="2.78"/>
<circle cx="683.6" cy="136.2" r="2.78"/>
<circle cx="684.2" cy="129.0" r="2.78"/>
<circle cx="684.8" cy="153.3" r="2.78"/>
<circle cx="685.4" cy="138.0" r="2.78"/>
<circle cx="686.0" cy="153.8" r="2.78"/>
<circle cx="686.6" cy="134.2" r="2.78"/>
<circle cx="687.2" cy="141.7" r="2.78"/>
<circle cx="687.8" cy="126.5" r="2.78"/>
<circle cx="688.4" cy="137.3" r="2.78"/>
<circle cx="689.0" cy="149.8" r="2.78"/>
<circle cx="689.6" cy="129.9" r="2.78"/>
<circle cx="690.2" cy="151.0" r="2.78"/>
<circle cx="690.8" cy="144.7" r="2.78"/>
<circle cx="691.4" cy="132.5" r="2.78"/>
<circle cx="692.0" cy="137.6" r="2.78"/>
<circle cx="692.6" cy="138.2" r="2.78"/>
<circle cx="693.2" cy="142.1" r="2.78"/>
<circle cx="693.8" cy="137.9" r="2.78"/>
<circle cx="694.4" cy="135.5" r="2.78"/>
<circle cx="695.0" cy="140.5" r="2.78"/>
<circle cx="695.6" cy="134.2" r="2.78"/>
<circle cx="696.2" cy="132.1" r="2.78"/>
<circle cx="696.8" cy="143.5" r="2.78"/>
<circle cx="697.4" cy="152.1" r="2.78"/>
<circle cx="698.0" cy="130.6" r="2.78"/>
<circle cx="698.6" cy="144.6" r="2.78"/>
<circle cx="699.2" cy="139.0" r="2.78"/>
<circle cx="699.8" cy="136.3" r="2.78"/>
<circle cx="700.4" cy="153.0" r="2.78"/>
<circle cx="701.0" cy="140.8" r="2.78"/>
<circle cx="701.6" cy="159.2" r="2.78"/>
<circle cx="702.2" cy="138.9" r="2.78"/>
<circle cx="702.8" cy="149.7" r="2.78"/>
<circle cx="703.4" cy="144.4" r="2.78"/>
<circle cx="704.0" cy="139.9" r="2.78"/>
<circle cx="704.6" cy="152.2" r="2.78"/>
<circle cx="705.2" cy="145.7" r="2.78"/>
<circle cx="705.8" cy="152.8" r="2.78"/>
<circle cx="706.4" cy="147.1" r="2.78"/>
<circle cx="707.0" cy="138.0" r="2.78"/>
<circle cx="707.6" cy="147.1" r="2.78"/>
<circle cx="708.2" cy="148.7" r="2.78"/>
<circle cx="708.8" cy="157.1" r="2.78"/>
<circle cx="709.4" cy="140.5" r="2.78"/>
<circle cx="710.0" cy="148.6" r="2.78"/>
<circle cx="710.6" cy="135.2" r="2.78"/>
</g>
<path stroke="#2ca02c" stroke-width="1.29" d="M507.9 73.3V85.3M511.9 74.9V86.9M519.1 81.3V93.3M532.0 82.9V94.9M536.9 80.5V92.5M558.6 100.2V112.2M560.5 120.1V132.1M675.4 123.0V138.0M691.0 126.6V141.6M695.9 129.0V144.0M693.4 136.2V151.2M701.9 136.2V151.2M705.5 131.4V146.4M689.8 138.6V153.6M480.9 71.4V83.4M498.8 69.5V81.5M502.2 76.4V88.4M508.8 71.2V83.2M530.9 82.6V94.6M519.5 78.1V90.1M523.5 79.7V91.7M548.2 86.9V98.9M467.1 36.3V48.3M478.4 35.3V47.3M444.2 71.0V83.0M440.9 78.4V90.4M442.0 99.0V111.0M475.9 65.2V77.2M534.6 93.9V105.9M543.4 95.1V107.1M527.6 100.1V112.1M558.4 91.4V103.4M563.5 159.8V171.8M668.0 117.4V132.4M673.6 120.6V135.6M681.4 115.8V130.8M685.0 118.9V133.9M688.5 129.0V144.0M682.5 136.2V151.2M693.4 132.6V147.6M699.5 131.4V146.4M704.2 133.8V148.8M710.2 124.2V139.2M671.5 150.0V165.0M666.9 131.4V146.4M695.9 143.5V158.5M701.9 144.7V159.7M661.0 174.4V189.4M710.1 122.4V137.4M446.2 69.1V81.1M448.9 53.9V65.9M451.4 46.9V58.9M454.0 50.1V62.1M456.6 52.9V64.9M459.2 44.9V56.9M461.8 46.6V58.6M464.4 48.1V60.1M467.0 47.6V59.6M469.6 52.8V64.8M472.2 49.9V61.9M474.8 50.2V62.2M477.4 52.8V64.8M480.0 46.1V58.1M482.6 51.7V63.7M485.2 46.5V58.5M487.8 46.2V58.2M490.4 44.3V56.3M493.0 60.6V72.6M495.6 52.2V64.2M498.2 57.5V69.5M500.8 59.5V71.5M503.4 61.5V73.5M506.0 62.3V74.3M508.6 71.3V83.3M511.2 60.2V72.2M513.8 59.2V71.2M516.4 65.2V77.2M519.0 68.0V80.0M521.6 78.0V90.0M524.2 79.3V91.3M526.8 72.8V84.8M529.4 72.0V84.0M532.0 77.3V89.3M534.6 85.6V97.6M537.2 68.8V80.8M539.8 82.8V94.8M542.4 76.0V88.0M545.0 85.9V97.9M547.6 78.0V90.0M550.2 82.3V94.3M552.8 78.2V90.2M555.4 81.4V93.4M558.0 92.3V104.3M560.6 91.0V103.0"/>
<g fill="#2ca02c" stroke="#2ca02c" stroke-width="0.86">
<circle cx="507.9" cy="79.3" r="2.78"/>
<circle cx="511.9" cy="80.9" r="2.78"/>
<circle cx="519.1" cy="87.3" r="2.78"/>
<circle cx="532.0" cy="88.9" r="2.78"/>
<circle cx="536.9" cy="86.5" r="2.78"/>
<circle cx="558.6" cy="106.2" r="2.78"/>
<circle cx="560.5" cy="126.1" r="2.78"/>
<circle cx="675.4" cy="130.5" r="2.78"/>
<circle cx="691.0" cy="134.1" r="2.78"/>
<circle cx="695.9" cy="136.5" r="2.78"/>
<circle cx="693.4" cy="143.7" r="2.78"/>
<circle cx="701.9" cy="143.7" r="2.78"/>
<circle cx="705.5" cy="138.9" r="2.78"/>
<circle cx="689.8" cy="146.1" r="2.78"/>
<circle cx="480.9" cy="77.4" r="2.78"/>
<circle cx="498.8" cy="75.5" r="2.78"/>
<circle cx="502.2" cy="82.4" r="2.78"/>
<circle cx="508.8" cy="77.2" r="2.78"/>
<circle cx="530.9" cy="88.6" r="2.78"/>
<circle cx="519.5" cy="84.1" r="2.78"/>
<circle cx="523.5" cy="85.7" r="2.78"/>
<circle cx="548.2" cy="92.9" r="2.78"/>
<circle cx="467.1" cy="42.3" r="2.78"/>
<circle cx="478.4" cy="41.3" r="2.78"/>
<circle cx="444.2" cy="77.0" r="2.78"/>
<circle cx="440.9" cy="84.4" r="2.78"/>
<circle cx="442.0" cy="105.0" r="2.78"/>
<circle cx="475.9" cy="71.2" r="2.78"/>
<circle cx="534.6" cy="99.9" r="2.78"/>
<circle cx="543.4" cy="101.1" r="2.78"/>
<circle cx="527.6" cy="106.1" r="2.78"/>
<circle cx="558.4" cy="97.4" r="2.78"/>
<circle cx="563.5" cy="165.8" r="2.78"/>
<circle cx="668.0" cy="124.9" r="2.78"/>
<circle cx="673.6" cy="128.1" r="2.78"/>
<circle cx="681.4" cy="123.3" r="2.78"/>
<circle cx="685.0" cy="126.4" r="2.78"/>
<circle cx="688.5" cy="136.5" r="2.78"/>
<circle cx="682.5" cy="143.7" r="2.78"/>
<circle cx="693.4" cy="140.1" r="2.78"/>
<circle cx="699.5" cy="138.9" r="2.78"/>
<circle cx="704.2" cy="141.3" r="2.78"/>
<circle cx="710.2" cy="131.7" r="2.78"/>
<circle cx="671.5" cy="157.5" r="2.78"/>
<circle cx="666.9" cy="138.9" r="2.78"/>
<circle cx="695.9" cy="151.0" r="2.78"/>
<circle cx="701.9" cy="152.2" r="2.78"/>
<circle cx="661.0" cy="181.9" r="2.78"/>
<circle cx="710.1" cy="129.9" r="2.78"/>
<circle cx="446.2" cy="75.1" r="2.78"/>
<circle cx="448.9" cy="59.9" r="2.78"/>
<circle cx="451.4" cy="52.9" r="2.78"/>
<circle cx="454.0" cy="56.1" r="2.78"/>
<circle cx="456.6" cy="58.9" r="2.78"/>
<circle cx="459.2" cy="50.9" r="2.78"/>
<circle cx="461.8" cy="52.6" r="2.78"/>
<circle cx="464.4" cy="54.1" r="2.78"/>
<circle cx="467.0" cy="53.6" r="2.78"/>
<circle cx="469.6" cy="58.8" r="2.78"/>
<circle cx="472.2" cy="55.9" r="2.78"/>
<circle cx="474.8" cy="56.2" r="2.78"/>
<circle cx="477.4" cy="58.8" r="2.78"/>
<circle cx="480.0" cy="52.1" r="2.78"/>
<circle cx="482.6" cy="57.7" r="2.78"/>
<circle cx="485.2" cy="52.5" r="2.78"/>
<circle cx="487.8" cy="52.2" r="2.78"/>
<circle cx="490.4" cy="50.3" r="2.78"/>
<circle cx="493.0" cy="66.6" r="2.78"/>
<circle cx="495.6" cy="58.2" r="2.78"/>
<circle cx="498.2" cy="63.5" r="2.78"/>
<circle cx="500.8" cy="65.5" r="2.78"/>
<circle cx="503.4" cy="67.5" r="2.78"/>
<circle cx="506.0" cy="68.3" r="2.78"/>
<circle cx="508.6" cy="77.3" r="2.78"/>
<circle cx="511.2" cy="66.2" r="2.78"/>
<circle cx="513.8" cy="65.2" r="2.78"/>
<circle cx="516.4" cy="71.2" r="2.78"/>
<circle cx="519.0" cy="74.0" r="2.78"/>
<circle cx="521.6" cy="84.0" r="2.78"/>
<circle cx="524.2" cy="85.3" r="2.78"/>
<circle cx="526.8" cy="78.8" r="2.78"/>
<circle cx="529.4" cy="78.0" r="2.78"/>
<circle cx="532.0" cy="83.3" r="2.78"/>
<circle cx="534.6" cy="91.6" r="2.78"/>
<circle cx="537.2" cy="74.8" r="2.78"/>
<circle cx="539.8" cy="88.8" r="2.78"/>
<circle cx="542.4" cy="82.0" r="2.78"/>
<circle cx="545.0" cy="91.9" r="2.78"/>
<circle cx="547.6" cy="84.0" r="2.78"/>
<circle cx="550.2" cy="88.3" r="2.78"/>
<circle cx="552.8" cy="84.2" r="2.78"/>
<circle cx="555.4" cy="87.4" r="2.78"/>
<circle cx="558.0" cy="98.3" r="2.78"/>
<circle cx="560.6" cy="97.0" r="2.78"/>
</g>
<path d="M440.60 108.70 L440.76 107.62 L440.92 106.54 L441.08 105.46 L441.24 104.38 L441.41 103.30 L441.57 102.22 L441.74 101.14 L441.91 100.06 L442.08 98.98 L442.26 97.90 L442.43 96.82 L442.61 95.74 L442.78 94.66 L442.96 93.58 L443.14 92.51 L443.33 91.43 L443.51 90.35 L443.69 89.27 L443.87 88.19 L444.04 87.11 L444.23 86.03 L444.41 84.96 L444.61 83.88 L444.83 82.81 L445.06 81.75 L445.31 80.69 L445.58 79.63 L445.88 78.58 L446.18 77.52 L446.50 76.48 L446.82 75.43 L447.15 74.39 L447.50 73.36 L447.86 72.32 L448.23 71.29 L448.60 70.27 L448.98 69.24 L449.37 68.22 L449.77 67.20 L450.19 66.19 L450.63 65.19 L451.08 64.19 L451.54 63.20 L452.03 62.21 L452.54 61.24 L453.08 60.29 L453.64 59.38 L454.24 58.45 L454.88 57.54 L455.56 56.64 L456.27 55.80 L457.02 55.03 L457.81 54.34 L458.68 53.67 L459.62 53.04 L460.59 52.48 L461.60 52.03 L462.61 51.72 L463.66 51.46 L464.74 51.24 L465.84 51.07 L466.94 51.00 L468.02 51.02 L469.12 51.08 L470.21 51.18 L471.30 51.30 L472.39 51.44 L473.46 51.59 L474.53 51.79 L475.58 52.07 L476.63 52.40 L477.67 52.77 L478.70 53.15 L479.73 53.54 L480.75 53.91 L481.77 54.31 L482.80 54.72 L483.81 55.15 L484.82 55.59 L485.81 56.06 L486.78 56.54 L487.74 57.05 L488.66 57.59 L489.57 58.18 L490.45 58.81 L491.32 59.47 L492.18 60.16 L493.03 60.85 L493.88 61.56 L494.73 62.26 L495.59 62.95 L496.47 63.61 L497.35 64.25 L498.25 64.88 L499.14 65.51 L500.04 66.13 L500.94 66.75 L501.84 67.36 L502.75 67.98 L503.65 68.59 L504.56 69.19 L505.48 69.80 L506.39 70.40 L507.31 70.99 L508.23 71.59 L509.15 72.18 L510.07 72.76 L511.00 73.35 L511.92 73.92 L512.85 74.50 L513.78 75.07 L514.71 75.64 L515.65 76.20 L516.59 76.75 L517.53 77.31 L518.48 77.85 L519.42 78.40 L520.37 78.94 L521.32 79.48 L522.28 80.02 L523.23 80.55 L524.18 81.09 L525.14 81.62 L526.09 82.15 L527.05 82.68 L528.00 83.22 L528.96 83.75 L529.91 84.29 L530.86 84.82 L531.82 85.35 L532.77 85.88 L533.73 86.41 L534.69 86.94 L535.64 87.47 L536.60 87.99 L537.56 88.52 L538.52 89.05 L539.48 89.57 L540.43 90.10 L541.39 90.62 L542.35 91.15 L543.31 91.67 L544.27 92.20 L545.22 92.72 L546.18 93.25 L547.14 93.78 L548.10 94.30 L549.06 94.83 L550.01 95.35 L550.97 95.88 L551.93 96.40 L552.89 96.93 L553.85 97.45 L554.81 97.98 L555.76 98.50 L556.72 99.03 L557.68 99.55 L558.64 100.08 L559.60 100.60 L561.35 109.30 L562.65 135.00 L565.45 198.00 M659.25 198.00 L663.30 136.90 L675.25 138.80 L687.10 140.50 L699.25 141.90 L711.25 143.00" fill="none" stroke="#ff7f0e" stroke-width="1.4" stroke-linejoin="round"/>
</g>
<rect x="427.15" y="0.3" width="297.6" height="193.79999999999998" fill="none" stroke="#000" stroke-width="0.8"/>
<text x="440.60" y="207.70" text-anchor="middle">0</text>
<text x="478.16" y="207.70" text-anchor="middle">50</text>
<text x="515.73" y="207.70" text-anchor="middle">100</text>
<text x="553.29" y="207.70" text-anchor="middle">150</text>
<text x="590.86" y="207.70" text-anchor="middle">200</text>
<text x="628.42" y="207.70" text-anchor="middle">250</text>
<text x="665.99" y="207.70" text-anchor="middle">300</text>
<text x="703.55" y="207.70" text-anchor="middle">350</text>
<text x="420.55" y="197.60" text-anchor="end">999.6</text>
<text x="420.55" y="170.90" text-anchor="end">999.8</text>
<text x="420.55" y="144.20" text-anchor="end">1000.0</text>
<text x="420.55" y="117.50" text-anchor="end">1000.2</text>
<text x="420.55" y="90.80" text-anchor="end">1000.4</text>
<text x="420.55" y="64.10" text-anchor="end">1000.6</text>
<text x="420.55" y="37.40" text-anchor="end">1000.8</text>
<text x="420.55" y="10.70" text-anchor="end">1001.0</text>
<path d="M440.60 194.1v3.2 M478.16 194.1v3.2 M515.73 194.1v3.2 M553.29 194.1v3.2 M590.86 194.1v3.2 M628.42 194.1v3.2 M665.99 194.1v3.2 M703.55 194.1v3.2 M427.15 194.10h-3.2 M427.15 167.40h-3.2 M427.15 140.70h-3.2 M427.15 114.00h-3.2 M427.15 87.30h-3.2 M427.15 60.60h-3.2 M427.15 33.90h-3.2 M427.15 7.20h-3.2" stroke="#000" stroke-width="0.8" fill="none"/>
<text x="575.95" y="219.8" text-anchor="middle">Time (min) after start</text>
<text transform="translate(384.95 97.20) rotate(-90)" text-anchor="middle">Normalized Flux (ppt)</text>
<rect x="632.95" y="5.0" width="87.7" height="41.6" rx="1.7" fill="#fff" fill-opacity="0.8" stroke="#ccc" stroke-width="0.86"/>
<circle cx="645.75" cy="12.4" r="2.78" fill="#1f77b4" stroke="#1f77b4" stroke-width="0.86"/>
<path d="M636.05 25.3h19.4" stroke="#ff7f0e" stroke-width="1.29"/>
<path d="M645.75 33.4v10" stroke="#2ca02c" stroke-width="1.29"/>
<circle cx="645.75" cy="38.4" r="2.78" fill="#2ca02c" stroke="#2ca02c" stroke-width="0.86"/>
<text x="661.80" y="15.3">data</text>
<text x="661.80" y="28.3"><tspan font-style="italic">τ</tspan>= 15.1 min</text>
<text x="661.80" y="41.6">binned data</text>
<g font-family="'Liberation Serif', serif" font-size="12.6px" fill="#111" class="cap">
<text y="247.3"><tspan x="71.9" textLength="57.0" lengthAdjust="spacingAndGlyphs">Lightcurve</tspan> <tspan x="133.6" textLength="16.2" lengthAdjust="spacingAndGlyphs">Fit</tspan> <tspan x="154.2" textLength="23.7" lengthAdjust="spacingAndGlyphs">with</tspan> <tspan x="182.2" textLength="7.0" lengthAdjust="spacingAndGlyphs">a</tspan> <tspan x="192.9" textLength="33.5" lengthAdjust="spacingAndGlyphs">Linear</tspan> <tspan x="232.0" textLength="44.3" lengthAdjust="spacingAndGlyphs">Baseline</tspan></text>
<text y="247.3"><tspan x="439.2" textLength="57.2" lengthAdjust="spacingAndGlyphs">Lightcurve</tspan> <tspan x="500.9" textLength="16.0" lengthAdjust="spacingAndGlyphs">Fit</tspan> <tspan x="521.6" textLength="23.6" lengthAdjust="spacingAndGlyphs">with</tspan> <tspan x="549.4" textLength="6.7" lengthAdjust="spacingAndGlyphs">a</tspan> <tspan x="560.1" textLength="54.2" lengthAdjust="spacingAndGlyphs">Quadratic</tspan> <tspan x="619.7" textLength="44.1" lengthAdjust="spacingAndGlyphs">Baseline</tspan></text>
</g>
</svg>
</body></html>
